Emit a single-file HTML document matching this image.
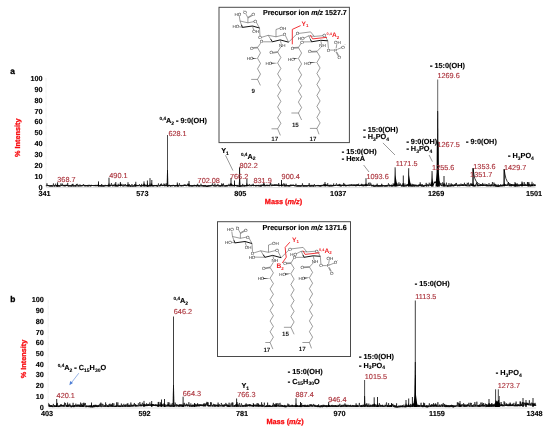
<!DOCTYPE html>
<html><head><meta charset="utf-8"><style>
html,body{margin:0;padding:0;background:#fff;}
svg{display:block;filter:blur(0.3px);}
text{font-family:'Liberation Sans', Arial, sans-serif;text-rendering:geometricPrecision;}
</style></head><body>
<svg width="550" height="432" viewBox="0 0 550 432">
<rect width="550" height="432" fill="#fff"/>
<text x="42.60" y="189.65" font-size="7.3" font-weight="bold" fill="#000" text-anchor="end" stroke="#000" stroke-width="0.12">0</text>
<text x="42.60" y="178.78" font-size="7.3" font-weight="bold" fill="#000" text-anchor="end" stroke="#000" stroke-width="0.12">10</text>
<text x="42.60" y="167.91" font-size="7.3" font-weight="bold" fill="#000" text-anchor="end" stroke="#000" stroke-width="0.12">20</text>
<text x="42.60" y="157.04" font-size="7.3" font-weight="bold" fill="#000" text-anchor="end" stroke="#000" stroke-width="0.12">30</text>
<text x="42.60" y="146.17" font-size="7.3" font-weight="bold" fill="#000" text-anchor="end" stroke="#000" stroke-width="0.12">40</text>
<text x="42.60" y="135.30" font-size="7.3" font-weight="bold" fill="#000" text-anchor="end" stroke="#000" stroke-width="0.12">50</text>
<text x="42.60" y="124.43" font-size="7.3" font-weight="bold" fill="#000" text-anchor="end" stroke="#000" stroke-width="0.12">60</text>
<text x="42.60" y="113.56" font-size="7.3" font-weight="bold" fill="#000" text-anchor="end" stroke="#000" stroke-width="0.12">70</text>
<text x="42.60" y="102.69" font-size="7.3" font-weight="bold" fill="#000" text-anchor="end" stroke="#000" stroke-width="0.12">80</text>
<text x="42.60" y="91.82" font-size="7.3" font-weight="bold" fill="#000" text-anchor="end" stroke="#000" stroke-width="0.12">90</text>
<text x="42.60" y="80.95" font-size="7.3" font-weight="bold" fill="#000" text-anchor="end" stroke="#000" stroke-width="0.12">100</text>
<line x1="46.0" y1="78" x2="46.0" y2="186.5" stroke="#c8c8c8" stroke-width="0.5" stroke-dasharray="0.6,0.6"/>
<text x="44.50" y="195.60" font-size="7.3" font-weight="bold" fill="#000" text-anchor="middle" stroke="#000" stroke-width="0.12">341</text>
<text x="142.40" y="195.60" font-size="7.3" font-weight="bold" fill="#000" text-anchor="middle" stroke="#000" stroke-width="0.12">573</text>
<text x="240.30" y="195.60" font-size="7.3" font-weight="bold" fill="#000" text-anchor="middle" stroke="#000" stroke-width="0.12">805</text>
<text x="338.20" y="195.60" font-size="7.3" font-weight="bold" fill="#000" text-anchor="middle" stroke="#000" stroke-width="0.12">1037</text>
<text x="436.10" y="195.60" font-size="7.3" font-weight="bold" fill="#000" text-anchor="middle" stroke="#000" stroke-width="0.12">1269</text>
<text x="534.00" y="195.60" font-size="7.3" font-weight="bold" fill="#000" text-anchor="middle" stroke="#000" stroke-width="0.12">1501</text>
<text x="10.30" y="74.40" font-size="8.4" font-weight="bold" fill="#000" text-anchor="start" stroke="#000" stroke-width="0.3">a</text>
<text x="0" y="0" font-size="7.3" font-weight="bold" fill="#f80c10" stroke="#f80c10" stroke-width="0.28" text-anchor="middle" transform="translate(20.3,137.7) rotate(-90)">% Intensity</text>
<text x="264.8" y="204.2" font-size="7.3" font-weight="bold" fill="#f80c10" stroke="#f80c10" stroke-width="0.28">Mass (<tspan font-style="italic">m/z</tspan>)</text>
<line x1="46.20" y1="187.60" x2="535.50" y2="187.60" stroke="#d8d8d8" stroke-width="0.8"/>
<path d="M46.20,184.97 L46.45,186.28 L46.70,185.57 L46.95,183.35 L47.20,185.04 L47.45,185.98 L47.70,185.05 L47.95,186.16 L48.20,185.16 L48.45,186.10 L48.70,185.16 L48.95,186.13 L49.20,185.22 L49.45,186.34 L49.70,185.45 L49.95,186.60 L50.20,185.60 L50.45,186.40 L50.70,185.21 L50.95,186.35 L51.20,185.06 L51.45,186.53 L51.70,185.42 L51.95,186.27 L52.20,185.27 L52.45,186.58 L52.70,185.59 L52.95,186.36 L53.20,185.05 L53.45,183.48 L53.70,185.43 L53.95,186.33 L54.20,185.23 L54.45,186.55 L54.70,185.24 L54.95,186.31 L55.20,185.00 L55.45,184.45 L55.70,183.68 L55.95,186.33 L56.20,185.06 L56.45,186.40 L56.70,185.02 L56.95,186.58 L57.20,185.32 L57.45,186.54 L57.70,185.12 L57.95,186.32 L58.20,185.25 L58.45,186.41 L58.70,185.34 L58.95,186.47 L59.20,185.43 L59.45,186.52 L59.70,185.18 L59.95,186.39 L60.20,185.32 L60.45,186.26 L60.70,185.38 L60.95,183.44 L61.20,185.04 L61.45,186.06 L61.70,185.09 L61.95,185.97 L62.20,184.72 L62.45,183.64 L62.70,185.10 L62.95,186.18 L63.20,184.91 L63.45,186.01 L63.70,185.21 L63.95,186.32 L64.20,184.96 L64.45,186.17 L64.70,184.94 L64.95,186.28 L65.20,184.95 L65.45,186.23 L65.70,185.10 L65.95,186.11 L66.20,184.71 L66.45,185.95 L66.70,184.91 L66.95,185.99 L67.20,185.03 L67.45,185.96 L67.70,183.07 L67.95,186.23 L68.20,185.37 L68.45,186.54 L68.70,185.33 L68.95,186.27 L69.20,185.52 L69.45,186.27 L69.70,185.20 L69.95,186.38 L70.20,185.25 L70.45,186.27 L70.70,185.31 L70.95,186.43 L71.20,185.43 L71.45,186.55 L71.70,185.09 L71.95,186.18 L72.20,184.02 L72.45,186.39 L72.70,185.23 L72.95,183.80 L73.20,185.48 L73.45,186.52 L73.70,184.96 L73.95,186.29 L74.20,185.53 L74.45,186.32 L74.70,185.43 L74.95,186.31 L75.20,185.08 L75.45,186.46 L75.70,184.98 L75.95,186.50 L76.20,185.27 L76.45,183.96 L76.70,185.36 L76.95,186.40 L77.20,185.02 L77.45,183.83 L77.70,184.27 L77.95,186.32 L78.20,185.10 L78.45,186.45 L78.70,185.56 L78.95,186.25 L79.20,185.02 L79.45,186.40 L79.70,185.48 L79.95,184.36 L80.20,185.10 L80.45,186.37 L80.70,185.05 L80.95,186.31 L81.20,185.07 L81.45,186.25 L81.70,185.27 L81.95,186.14 L82.20,185.20 L82.45,186.12 L82.70,184.93 L82.95,186.16 L83.20,185.28 L83.45,184.08 L83.70,184.92 L83.95,185.99 L84.20,185.19 L84.45,186.31 L84.70,184.91 L84.95,186.16 L85.20,184.97 L85.45,186.30 L85.70,185.38 L85.95,186.27 L86.20,185.00 L86.45,186.09 L86.70,185.26 L86.95,186.27 L87.20,184.99 L87.45,186.37 L87.70,184.94 L87.95,186.23 L88.20,185.38 L88.45,186.41 L88.70,184.91 L88.95,186.16 L89.20,184.78 L89.45,186.05 L89.70,185.32 L89.95,186.19 L90.20,185.00 L90.45,186.35 L90.70,185.04 L90.95,186.32 L91.20,184.84 L91.45,186.05 L91.70,184.97 L91.95,186.03 L92.20,185.06 L92.45,185.89 L92.70,185.16 L92.95,186.03 L93.20,185.20 L93.45,186.11 L93.70,185.15 L93.95,186.05 L94.20,184.95 L94.45,186.00 L94.70,185.01 L94.95,186.24 L95.20,185.06 L95.45,186.02 L95.70,184.86 L95.95,186.24 L96.20,185.40 L96.45,186.02 L96.70,185.07 L96.95,186.22 L97.20,184.75 L97.45,186.10 L97.70,185.01 L97.95,185.98 L98.20,185.18 L98.45,186.39 L98.70,184.97 L98.95,186.10 L99.20,185.08 L99.45,186.24 L99.70,185.40 L99.95,186.53 L100.20,185.08 L100.45,186.40 L100.70,185.00 L100.95,186.13 L101.20,184.92 L101.45,186.46 L101.70,184.04 L101.95,186.54 L102.20,185.41 L102.45,186.39 L102.70,185.20 L102.95,186.36 L103.20,185.14 L103.45,186.59 L103.70,185.40 L103.95,186.40 L104.20,185.17 L104.45,186.37 L104.70,185.32 L104.95,186.21 L105.20,184.82 L105.45,186.17 L105.70,185.31 L105.95,186.09 L106.20,185.00 L106.45,186.12 L106.70,185.27 L106.95,186.16 L107.20,185.19 L107.45,186.16 L107.70,184.99 L107.95,186.23 L108.20,184.86 L108.45,186.42 L108.70,184.83 L108.95,186.20 L109.20,185.14 L109.45,186.31 L109.70,185.18 L109.95,186.26 L110.20,184.78 L110.45,186.22 L110.70,184.95 L110.95,185.98 L111.20,184.64 L111.45,183.12 L111.70,184.72 L111.95,186.06 L112.20,184.80 L112.45,186.29 L112.70,185.18 L112.95,186.19 L113.20,184.78 L113.45,186.07 L113.70,184.86 L113.95,186.14 L114.20,184.84 L114.45,186.31 L114.70,185.29 L114.95,183.70 L115.20,185.00 L115.45,186.21 L115.70,185.00 L115.95,186.33 L116.20,185.23 L116.45,186.27 L116.70,185.00 L116.95,186.35 L117.20,185.42 L117.45,186.46 L117.70,185.23 L117.95,186.36 L118.20,183.79 L118.45,186.23 L118.70,185.02 L118.95,186.04 L119.20,184.93 L119.45,185.98 L119.70,185.18 L119.95,185.91 L120.20,183.66 L120.45,185.98 L120.70,185.15 L120.95,186.02 L121.20,184.70 L121.45,186.02 L121.70,184.76 L121.95,183.87 L122.20,185.21 L122.45,186.31 L122.70,185.24 L122.95,186.16 L123.20,185.28 L123.45,186.44 L123.70,185.18 L123.95,184.13 L124.20,184.91 L124.45,186.14 L124.70,185.10 L124.95,186.22 L125.20,184.95 L125.45,184.06 L125.70,185.16 L125.95,186.28 L126.20,185.30 L126.45,186.22 L126.70,185.21 L126.95,186.04 L127.20,184.96 L127.45,186.29 L127.70,185.15 L127.95,186.43 L128.20,185.35 L128.45,186.33 L128.70,185.33 L128.95,186.21 L129.20,184.00 L129.45,186.32 L129.70,185.33 L129.95,186.36 L130.20,185.24 L130.45,186.68 L130.70,185.37 L130.95,186.62 L131.20,185.48 L131.45,186.47 L131.70,185.64 L131.95,184.01 L132.20,185.42 L132.45,186.61 L132.70,185.46 L132.95,186.58 L133.20,185.42 L133.45,186.39 L133.70,185.44 L133.95,186.42 L134.20,185.47 L134.45,186.39 L134.70,184.02 L134.95,186.30 L135.20,185.31 L135.45,186.43 L135.70,185.22 L135.95,186.33 L136.20,185.50 L136.45,186.04 L136.70,185.20 L136.95,186.31 L137.20,184.94 L137.45,185.97 L137.70,185.20 L137.95,186.15 L138.20,185.11 L138.45,186.17 L138.70,185.18 L138.95,185.95 L139.20,185.08 L139.45,184.16 L139.70,185.23 L139.95,186.26 L140.20,185.14 L140.45,186.37 L140.70,185.03 L140.95,186.53 L141.20,185.48 L141.45,186.38 L141.70,183.88 L141.95,186.40 L142.20,185.00 L142.45,186.09 L142.70,185.27 L142.95,186.08 L143.20,184.93 L143.45,186.09 L143.70,185.26 L143.95,186.21 L144.20,183.80 L144.45,186.33 L144.70,185.25 L144.95,186.08 L145.20,184.87 L145.45,186.29 L145.70,184.73 L145.95,186.22 L146.20,184.98 L146.45,186.23 L146.70,185.18 L146.95,186.44 L147.20,185.22 L147.45,186.62 L147.70,185.41 L147.95,186.60 L148.20,185.33 L148.45,186.52 L148.70,184.94 L148.95,186.15 L149.20,185.01 L149.45,186.18 L149.70,185.33 L149.95,186.24 L150.20,185.17 L150.45,186.28 L150.70,185.07 L150.95,186.10 L151.20,184.90 L151.45,183.89 L151.70,185.23 L151.95,186.11 L152.20,185.37 L152.45,186.22 L152.70,185.31 L152.95,186.42 L153.20,185.24 L153.45,186.33 L153.70,184.99 L153.95,186.22 L154.20,185.15 L154.45,186.17 L154.70,184.96 L154.95,186.06 L155.20,185.16 L155.45,186.16 L155.70,185.08 L155.95,186.10 L156.20,184.96 L156.45,186.14 L156.70,184.98 L156.95,186.50 L157.20,185.30 L157.45,186.58 L157.70,185.36 L157.95,186.41 L158.20,185.06 L158.45,183.48 L158.70,185.32 L158.95,186.13 L159.20,185.38 L159.45,186.27 L159.70,185.18 L159.95,186.25 L160.20,184.91 L160.45,186.10 L160.70,183.93 L160.95,186.07 L161.20,185.13 L161.45,183.58 L161.70,185.03 L161.95,186.06 L162.20,184.82 L162.45,186.10 L162.70,184.98 L162.95,186.01 L163.20,184.95 L163.45,186.06 L163.70,184.91 L163.95,183.53 L164.20,184.88 L164.45,186.13 L164.70,184.17 L164.95,186.30 L165.20,185.15 L165.45,186.10 L165.70,184.79 L165.95,185.81 L166.20,183.21 L166.45,185.98 L166.70,184.88 L166.95,186.12 L167.20,185.12 L167.45,186.10 L167.70,185.06 L167.95,186.32 L168.20,185.05 L168.45,186.24 L168.70,185.00 L168.95,186.06 L169.20,184.77 L169.45,186.02 L169.70,185.02 L169.95,186.22 L170.20,185.44 L170.45,186.51 L170.70,185.12 L170.95,186.45 L171.20,185.15 L171.45,186.09 L171.70,184.99 L171.95,186.15 L172.20,185.36 L172.45,186.26 L172.70,185.00 L172.95,186.02 L173.20,184.79 L173.45,185.95 L173.70,185.14 L173.95,186.12 L174.20,185.41 L174.45,186.28 L174.70,185.02 L174.95,186.50 L175.20,185.24 L175.45,186.34 L175.70,185.00 L175.95,186.10 L176.20,185.26 L176.45,186.08 L176.70,185.06 L176.95,186.37 L177.20,185.24 L177.45,186.14 L177.70,185.42 L177.95,186.50 L178.20,185.25 L178.45,186.43 L178.70,185.15 L178.95,186.33 L179.20,184.17 L179.45,183.28 L179.70,184.98 L179.95,186.00 L180.20,184.96 L180.45,186.15 L180.70,185.12 L180.95,186.33 L181.20,185.07 L181.45,186.26 L181.70,184.94 L181.95,186.19 L182.20,185.17 L182.45,186.19 L182.70,185.18 L182.95,186.02 L183.20,184.87 L183.45,186.26 L183.70,185.06 L183.95,185.91 L184.20,184.58 L184.45,186.00 L184.70,184.73 L184.95,185.98 L185.20,184.62 L185.45,185.82 L185.70,184.85 L185.95,186.13 L186.20,185.20 L186.45,186.09 L186.70,185.14 L186.95,186.11 L187.20,184.78 L187.45,183.93 L187.70,183.83 L187.95,186.05 L188.20,183.80 L188.45,186.07 L188.70,184.80 L188.95,186.19 L189.20,184.82 L189.45,186.14 L189.70,184.92 L189.95,186.36 L190.20,185.08 L190.45,186.29 L190.70,185.21 L190.95,186.11 L191.20,184.98 L191.45,186.47 L191.70,185.31 L191.95,186.38 L192.20,185.42 L192.45,186.36 L192.70,185.01 L192.95,186.49 L193.20,185.10 L193.45,186.19 L193.70,185.24 L193.95,186.15 L194.20,184.83 L194.45,186.20 L194.70,184.91 L194.95,186.17 L195.20,185.05 L195.45,186.12 L195.70,185.07 L195.95,186.23 L196.20,185.03 L196.45,186.47 L196.70,184.85 L196.95,186.26 L197.20,184.98 L197.45,186.02 L197.70,183.82 L197.95,186.36 L198.20,185.24 L198.45,186.34 L198.70,185.01 L198.95,186.53 L199.20,185.42 L199.45,186.42 L199.70,185.19 L199.95,186.30 L200.20,185.40 L200.45,186.26 L200.70,185.11 L200.95,183.72 L201.20,184.37 L201.45,186.28 L201.70,185.19 L201.95,186.24 L202.20,185.17 L202.45,186.30 L202.70,185.18 L202.95,186.27 L203.20,185.18 L203.45,186.48 L203.70,185.11 L203.95,186.49 L204.20,185.16 L204.45,186.51 L204.70,185.26 L204.95,186.23 L205.20,184.93 L205.45,186.49 L205.70,185.20 L205.95,186.55 L206.20,185.73 L206.45,186.82 L206.70,185.58 L206.95,186.81 L207.20,185.75 L207.45,186.88 L207.70,185.35 L207.95,186.66 L208.20,185.56 L208.45,186.55 L208.70,185.17 L208.95,186.33 L209.20,185.35 L209.45,186.43 L209.70,185.30 L209.95,186.24 L210.20,185.09 L210.45,186.29 L210.70,185.10 L210.95,186.18 L211.20,185.23 L211.45,186.11 L211.70,184.95 L211.95,186.16 L212.20,184.70 L212.45,183.40 L212.70,184.86 L212.95,186.04 L213.20,185.19 L213.45,186.11 L213.70,184.88 L213.95,186.38 L214.20,185.10 L214.45,186.37 L214.70,185.17 L214.95,183.63 L215.20,185.49 L215.45,186.43 L215.70,185.27 L215.95,186.36 L216.20,185.10 L216.45,186.29 L216.70,185.23 L216.95,186.04 L217.20,184.85 L217.45,186.15 L217.70,185.10 L217.95,184.08 L218.20,185.38 L218.45,186.37 L218.70,185.09 L218.95,186.19 L219.20,185.45 L219.45,186.42 L219.70,185.24 L219.95,186.41 L220.20,185.12 L220.45,186.43 L220.70,185.52 L220.95,186.50 L221.20,185.08 L221.45,186.12 L221.70,183.35 L221.95,186.24 L222.20,185.20 L222.45,186.20 L222.70,184.16 L222.95,186.46 L223.20,185.52 L223.45,183.48 L223.70,185.49 L223.95,186.31 L224.20,185.55 L224.45,186.34 L224.70,185.31 L224.95,186.34 L225.20,185.60 L225.45,186.50 L225.70,185.19 L225.95,186.28 L226.20,185.18 L226.45,186.35 L226.70,184.99 L226.95,186.34 L227.20,184.90 L227.45,186.33 L227.70,185.33 L227.95,186.08 L228.20,185.11 L228.45,186.10 L228.70,185.15 L228.95,183.84 L229.20,184.97 L229.45,186.17 L229.70,185.01 L229.95,186.23 L230.20,184.90 L230.45,183.77 L230.70,184.95 L230.95,183.68 L231.20,184.92 L231.45,183.93 L231.70,185.19 L231.95,186.14 L232.20,184.73 L232.45,186.21 L232.70,184.77 L232.95,186.06 L233.20,185.03 L233.45,186.16 L233.70,185.00 L233.95,186.23 L234.20,185.12 L234.45,185.95 L234.70,185.01 L234.95,186.02 L235.20,185.22 L235.45,186.00 L235.70,184.92 L235.95,186.08 L236.20,184.99 L236.45,186.14 L236.70,185.28 L236.95,186.36 L237.20,184.89 L237.45,186.35 L237.70,185.15 L237.95,186.55 L238.20,185.53 L238.45,186.41 L238.70,185.52 L238.95,186.34 L239.20,185.43 L239.45,186.46 L239.70,185.29 L239.95,186.42 L240.20,185.22 L240.45,186.58 L240.70,185.22 L240.95,186.51 L241.20,185.50 L241.45,186.34 L241.70,185.14 L241.95,186.41 L242.20,185.61 L242.45,186.32 L242.70,183.88 L242.95,186.18 L243.20,185.40 L243.45,186.23 L243.70,185.37 L243.95,186.47 L244.20,184.90 L244.45,186.34 L244.70,185.22 L244.95,186.47 L245.20,185.45 L245.45,186.23 L245.70,185.04 L245.95,186.05 L246.20,185.22 L246.45,186.16 L246.70,185.07 L246.95,186.06 L247.20,185.43 L247.45,186.12 L247.70,184.94 L247.95,186.02 L248.20,184.81 L248.45,186.01 L248.70,185.06 L248.95,186.20 L249.20,185.08 L249.45,184.15 L249.70,184.05 L249.95,186.22 L250.20,185.36 L250.45,186.08 L250.70,185.22 L250.95,186.10 L251.20,184.94 L251.45,186.20 L251.70,184.74 L251.95,186.06 L252.20,185.12 L252.45,185.88 L252.70,184.72 L252.95,185.99 L253.20,183.75 L253.45,186.22 L253.70,185.07 L253.95,185.99 L254.20,185.30 L254.45,185.98 L254.70,185.16 L254.95,186.10 L255.20,184.98 L255.45,186.28 L255.70,185.07 L255.95,186.28 L256.20,185.11 L256.45,186.20 L256.70,184.93 L256.95,186.09 L257.20,185.10 L257.45,185.99 L257.70,185.05 L257.95,186.21 L258.20,184.90 L258.45,186.16 L258.70,184.94 L258.95,186.19 L259.20,185.29 L259.45,186.19 L259.70,185.46 L259.95,186.46 L260.20,184.77 L260.45,186.38 L260.70,185.07 L260.95,186.47 L261.20,184.89 L261.45,186.31 L261.70,184.77 L261.95,186.17 L262.20,184.83 L262.45,185.97 L262.70,184.64 L262.95,185.96 L263.20,185.18 L263.45,185.95 L263.70,183.21 L263.95,186.26 L264.20,183.53 L264.45,186.18 L264.70,184.61 L264.95,186.00 L265.20,185.18 L265.45,186.23 L265.70,185.05 L265.95,186.12 L266.20,185.10 L266.45,186.04 L266.70,184.84 L266.95,186.12 L267.20,184.69 L267.45,186.09 L267.70,185.09 L267.95,186.14 L268.20,185.19 L268.45,186.12 L268.70,184.92 L268.95,185.98 L269.20,184.85 L269.45,186.13 L269.70,184.75 L269.95,186.26 L270.20,185.26 L270.45,183.25 L270.70,184.64 L270.95,183.48 L271.20,185.02 L271.45,186.09 L271.70,185.07 L271.95,186.15 L272.20,184.65 L272.45,185.84 L272.70,184.70 L272.95,185.87 L273.20,184.81 L273.45,186.00 L273.70,184.69 L273.95,185.74 L274.20,184.82 L274.45,185.85 L274.70,184.30 L274.95,185.89 L275.20,184.76 L275.45,185.73 L275.70,184.49 L275.95,185.81 L276.20,184.62 L276.45,185.64 L276.70,184.65 L276.95,185.75 L277.20,184.43 L277.45,185.89 L277.70,184.92 L277.95,185.85 L278.20,184.98 L278.45,186.14 L278.70,183.09 L278.95,186.12 L279.20,184.73 L279.45,186.19 L279.70,184.93 L279.95,186.09 L280.20,185.10 L280.45,185.82 L280.70,184.99 L280.95,186.01 L281.20,184.60 L281.45,185.99 L281.70,184.88 L281.95,186.11 L282.20,184.60 L282.45,185.90 L282.70,184.76 L282.95,186.22 L283.20,184.20 L283.45,183.48 L283.70,184.70 L283.95,186.08 L284.20,184.89 L284.45,186.30 L284.70,183.63 L284.95,186.39 L285.20,185.20 L285.45,186.38 L285.70,184.91 L285.95,186.12 L286.20,183.75 L286.45,186.28 L286.70,185.05 L286.95,186.24 L287.20,185.18 L287.45,186.19 L287.70,185.21 L287.95,186.25 L288.20,185.04 L288.45,186.32 L288.70,185.07 L288.95,186.45 L289.20,185.07 L289.45,186.48 L289.70,185.10 L289.95,186.19 L290.20,184.78 L290.45,186.24 L290.70,184.79 L290.95,185.91 L291.20,184.65 L291.45,186.11 L291.70,185.13 L291.95,186.00 L292.20,184.80 L292.45,185.90 L292.70,184.85 L292.95,186.01 L293.20,184.74 L293.45,185.90 L293.70,184.74 L293.95,185.89 L294.20,185.04 L294.45,186.10 L294.70,185.05 L294.95,186.29 L295.20,185.24 L295.45,186.26 L295.70,184.93 L295.95,183.75 L296.20,184.99 L296.45,186.46 L296.70,185.50 L296.95,186.46 L297.20,185.53 L297.45,186.47 L297.70,185.06 L297.95,186.50 L298.20,185.19 L298.45,186.44 L298.70,185.25 L298.95,186.53 L299.20,185.16 L299.45,186.39 L299.70,185.31 L299.95,186.56 L300.20,185.35 L300.45,186.58 L300.70,185.34 L300.95,186.42 L301.20,185.30 L301.45,186.30 L301.70,185.19 L301.95,186.39 L302.20,185.57 L302.45,183.36 L302.70,185.51 L302.95,186.48 L303.20,184.98 L303.45,186.50 L303.70,185.44 L303.95,186.52 L304.20,185.07 L304.45,186.43 L304.70,185.31 L304.95,186.40 L305.20,185.37 L305.45,186.37 L305.70,185.19 L305.95,186.52 L306.20,185.19 L306.45,186.45 L306.70,185.36 L306.95,186.50 L307.20,185.45 L307.45,186.42 L307.70,185.21 L307.95,186.15 L308.20,185.22 L308.45,186.13 L308.70,184.90 L308.95,186.15 L309.20,183.17 L309.45,186.49 L309.70,185.28 L309.95,186.41 L310.20,185.47 L310.45,186.50 L310.70,184.89 L310.95,186.49 L311.20,185.29 L311.45,186.26 L311.70,184.91 L311.95,186.50 L312.20,184.87 L312.45,186.28 L312.70,185.57 L312.95,186.36 L313.20,185.05 L313.45,186.58 L313.70,184.88 L313.95,186.44 L314.20,184.94 L314.45,184.17 L314.70,185.27 L314.95,186.34 L315.20,185.22 L315.45,186.32 L315.70,185.39 L315.95,186.24 L316.20,185.48 L316.45,186.09 L316.70,185.16 L316.95,186.10 L317.20,184.96 L317.45,186.08 L317.70,185.24 L317.95,186.24 L318.20,184.93 L318.45,186.15 L318.70,185.01 L318.95,186.22 L319.20,185.07 L319.45,186.30 L319.70,185.12 L319.95,186.55 L320.20,185.07 L320.45,186.46 L320.70,184.98 L320.95,186.41 L321.20,185.21 L321.45,186.18 L321.70,184.91 L321.95,186.22 L322.20,184.95 L322.45,186.01 L322.70,185.21 L322.95,186.16 L323.20,184.68 L323.45,186.14 L323.70,184.56 L323.95,183.90 L324.20,185.25 L324.45,186.09 L324.70,184.55 L324.95,186.04 L325.20,184.43 L325.45,186.22 L325.70,184.56 L325.95,186.14 L326.20,184.63 L326.45,185.98 L326.70,184.63 L326.95,186.16 L327.20,185.09 L327.45,186.20 L327.70,183.24 L327.95,185.97 L328.20,185.14 L328.45,186.29 L328.70,185.20 L328.95,186.32 L329.20,184.80 L329.45,186.45 L329.70,185.02 L329.95,186.26 L330.20,185.29 L330.45,186.42 L330.70,184.66 L330.95,186.17 L331.20,185.44 L331.45,186.42 L331.70,184.84 L331.95,186.28 L332.20,185.04 L332.45,186.31 L332.70,185.05 L332.95,186.11 L333.20,184.87 L333.45,186.08 L333.70,183.50 L333.95,186.15 L334.20,185.02 L334.45,186.00 L334.70,185.10 L334.95,185.91 L335.20,185.02 L335.45,185.98 L335.70,184.70 L335.95,185.96 L336.20,184.81 L336.45,183.38 L336.70,184.45 L336.95,185.79 L337.20,185.09 L337.45,185.97 L337.70,184.61 L337.95,186.07 L338.20,184.99 L338.45,185.85 L338.70,184.38 L338.95,186.07 L339.20,184.82 L339.45,185.96 L339.70,183.89 L339.95,186.25 L340.20,184.50 L340.45,186.23 L340.70,184.87 L340.95,186.46 L341.20,185.23 L341.45,186.24 L341.70,184.70 L341.95,186.03 L342.20,184.99 L342.45,185.93 L342.70,184.67 L342.95,185.99 L343.20,185.15 L343.45,186.11 L343.70,182.94 L343.95,186.11 L344.20,185.19 L344.45,186.01 L344.70,183.88 L344.95,186.07 L345.20,185.10 L345.45,186.31 L345.70,184.77 L345.95,186.12 L346.20,184.84 L346.45,186.19 L346.70,185.00 L346.95,186.13 L347.20,184.99 L347.45,185.94 L347.70,184.93 L347.95,186.02 L348.20,184.53 L348.45,186.07 L348.70,185.19 L348.95,186.10 L349.20,185.11 L349.45,186.20 L349.70,184.98 L349.95,184.09 L350.20,185.21 L350.45,185.92 L350.70,185.00 L350.95,186.17 L351.20,184.38 L351.45,185.92 L351.70,184.57 L351.95,183.98 L352.20,184.64 L352.45,185.88 L352.70,184.76 L352.95,186.16 L353.20,185.16 L353.45,186.03 L353.70,184.41 L353.95,185.90 L354.20,184.50 L354.45,186.03 L354.70,184.87 L354.95,186.04 L355.20,184.56 L355.45,186.19 L355.70,184.73 L355.95,186.22 L356.20,184.87 L356.45,186.10 L356.70,184.37 L356.95,186.03 L357.20,184.33 L357.45,185.80 L357.70,184.40 L357.95,186.04 L358.20,184.72 L358.45,185.91 L358.70,183.70 L358.95,185.93 L359.20,185.07 L359.45,186.16 L359.70,184.97 L359.95,186.03 L360.20,185.09 L360.45,186.01 L360.70,184.71 L360.95,186.02 L361.20,184.59 L361.45,185.86 L361.70,183.79 L361.95,186.14 L362.20,184.83 L362.45,186.10 L362.70,184.33 L362.95,186.11 L363.20,184.98 L363.45,186.28 L363.70,184.46 L363.95,186.11 L364.20,185.20 L364.45,186.08 L364.70,184.42 L364.95,185.95 L365.20,184.62 L365.45,185.87 L365.70,184.15 L365.95,185.81 L366.20,184.87 L366.45,185.76 L366.70,184.34 L366.95,185.66 L367.20,184.53 L367.45,185.85 L367.70,184.58 L367.95,185.99 L368.20,184.58 L368.45,182.80 L368.70,184.29 L368.95,185.94 L369.20,184.76 L369.45,185.92 L369.70,184.58 L369.95,182.47 L370.20,184.08 L370.45,185.71 L370.70,185.09 L370.95,183.49 L371.20,184.55 L371.45,186.25 L371.70,184.85 L371.95,186.17 L372.20,185.10 L372.45,186.15 L372.70,184.88 L372.95,186.28 L373.20,185.26 L373.45,186.49 L373.70,184.73 L373.95,186.67 L374.20,185.36 L374.45,186.59 L374.70,185.55 L374.95,186.63 L375.20,185.69 L375.45,186.58 L375.70,185.03 L375.95,186.23 L376.20,184.76 L376.45,186.33 L376.70,185.03 L376.95,186.55 L377.20,183.65 L377.45,186.43 L377.70,185.33 L377.95,186.48 L378.20,185.14 L378.45,186.49 L378.70,185.16 L378.95,186.64 L379.20,185.04 L379.45,186.36 L379.70,185.27 L379.95,186.55 L380.20,185.20 L380.45,186.56 L380.70,185.15 L380.95,186.18 L381.20,185.04 L381.45,186.41 L381.70,183.75 L381.95,186.59 L382.20,184.77 L382.45,186.41 L382.70,185.05 L382.95,186.18 L383.20,185.05 L383.45,186.19 L383.70,185.33 L383.95,186.28 L384.20,185.33 L384.45,186.54 L384.70,185.38 L384.95,186.34 L385.20,185.02 L385.45,186.47 L385.70,185.33 L385.95,186.51 L386.20,185.09 L386.45,186.40 L386.70,185.02 L386.95,186.38 L387.20,184.90 L387.45,186.32 L387.70,185.14 L387.95,186.25 L388.20,185.12 L388.45,183.33 L388.70,184.56 L388.95,186.18 L389.20,184.61 L389.45,186.27 L389.70,184.86 L389.95,186.36 L390.20,185.09 L390.45,186.12 L390.70,185.30 L390.95,186.17 L391.20,184.89 L391.45,186.54 L391.70,184.69 L391.95,186.32 L392.20,185.03 L392.45,186.37 L392.70,185.09 L392.95,186.42 L393.20,183.39 L393.45,186.20 L393.70,184.69 L393.95,185.91 L394.20,184.43 L394.45,185.72 L394.70,183.99 L394.95,185.20 L395.20,183.18 L395.45,184.99 L395.70,181.83 L395.95,185.24 L396.20,183.54 L396.45,185.29 L396.70,184.73 L396.95,183.22 L397.20,184.14 L397.45,185.69 L397.70,184.84 L397.95,185.88 L398.20,184.52 L398.45,186.12 L398.70,184.69 L398.95,182.39 L399.20,184.85 L399.45,185.90 L399.70,184.40 L399.95,185.99 L400.20,185.02 L400.45,183.51 L400.70,185.33 L400.95,186.12 L401.20,185.29 L401.45,186.45 L401.70,184.89 L401.95,186.30 L402.20,184.68 L402.45,186.42 L402.70,184.66 L402.95,183.23 L403.20,184.70 L403.45,186.38 L403.70,185.42 L403.95,186.58 L404.20,185.08 L404.45,186.57 L404.70,184.91 L404.95,183.55 L405.20,185.03 L405.45,186.42 L405.70,185.17 L405.95,186.29 L406.20,185.11 L406.45,186.35 L406.70,184.43 L406.95,185.99 L407.20,184.99 L407.45,185.90 L407.70,184.01 L407.95,185.45 L408.20,183.85 L408.45,185.01 L408.70,183.03 L408.95,184.80 L409.20,183.64 L409.45,185.03 L409.70,184.09 L409.95,185.71 L410.20,184.75 L410.45,185.96 L410.70,183.60 L410.95,186.16 L411.20,185.23 L411.45,186.32 L411.70,184.79 L411.95,186.61 L412.20,183.84 L412.45,186.34 L412.70,185.31 L412.95,186.44 L413.20,184.22 L413.45,186.21 L413.70,184.74 L413.95,186.37 L414.20,184.92 L414.45,186.57 L414.70,184.64 L414.95,186.17 L415.20,184.68 L415.45,186.19 L415.70,185.03 L415.95,186.24 L416.20,184.67 L416.45,186.35 L416.70,185.11 L416.95,186.23 L417.20,185.27 L417.45,186.28 L417.70,185.38 L417.95,186.50 L418.20,184.69 L418.45,186.36 L418.70,184.90 L418.95,186.23 L419.20,184.67 L419.45,186.08 L419.70,184.42 L419.95,185.92 L420.20,182.39 L420.45,186.02 L420.70,184.54 L420.95,186.32 L421.20,185.06 L421.45,186.41 L421.70,184.61 L421.95,186.29 L422.20,184.00 L422.45,186.48 L422.70,185.23 L422.95,186.27 L423.20,185.38 L423.45,186.77 L423.70,185.32 L423.95,186.43 L424.20,184.89 L424.45,186.40 L424.70,185.30 L424.95,186.14 L425.20,184.88 L425.45,185.97 L425.70,184.90 L425.95,186.14 L426.20,182.89 L426.45,186.41 L426.70,184.60 L426.95,186.36 L427.20,185.02 L427.45,184.27 L427.70,184.38 L427.95,186.10 L428.20,184.61 L428.45,186.34 L428.70,184.69 L428.95,186.18 L429.20,182.76 L429.45,183.54 L429.70,184.67 L429.95,185.59 L430.20,184.31 L430.45,185.86 L430.70,184.77 L430.95,185.87 L431.20,182.59 L431.45,185.81 L431.70,184.47 L431.95,185.76 L432.20,184.19 L432.45,185.89 L432.70,184.03 L432.95,185.49 L433.20,183.65 L433.45,184.92 L433.70,183.32 L433.95,183.81 L434.20,181.73 L434.45,182.99 L434.70,182.00 L434.95,183.15 L435.20,181.60 L435.45,182.90 L435.70,181.87 L435.95,182.78 L436.20,181.49 L436.45,182.09 L436.70,179.31 L436.95,181.47 L437.20,180.24 L437.45,180.88 L437.70,179.31 L437.95,181.02 L438.20,180.02 L438.45,181.71 L438.70,181.05 L438.95,182.83 L439.20,181.47 L439.45,183.82 L439.70,182.38 L439.95,184.73 L440.20,183.55 L440.45,185.43 L440.70,184.02 L440.95,183.02 L441.20,184.32 L441.45,186.03 L441.70,184.91 L441.95,186.22 L442.20,184.20 L442.45,182.51 L442.70,182.33 L442.95,186.31 L443.20,184.43 L443.45,186.14 L443.70,184.43 L443.95,186.42 L444.20,183.29 L444.45,186.38 L444.70,184.70 L444.95,184.16 L445.20,185.22 L445.45,186.26 L445.70,185.24 L445.95,186.39 L446.20,184.68 L446.45,182.67 L446.70,185.14 L446.95,186.44 L447.20,185.08 L447.45,186.76 L447.70,185.13 L447.95,186.63 L448.20,184.95 L448.45,186.57 L448.70,184.78 L448.95,183.16 L449.20,184.70 L449.45,186.40 L449.70,185.37 L449.95,186.43 L450.20,184.62 L450.45,186.30 L450.70,184.87 L450.95,186.38 L451.20,183.34 L451.45,186.28 L451.70,184.73 L451.95,185.96 L452.20,184.22 L452.45,186.16 L452.70,184.85 L452.95,186.22 L453.20,184.82 L453.45,186.24 L453.70,184.99 L453.95,186.27 L454.20,184.40 L454.45,185.94 L454.70,184.45 L454.95,185.88 L455.20,184.77 L455.45,185.90 L455.70,183.43 L455.95,185.78 L456.20,184.53 L456.45,182.94 L456.70,184.82 L456.95,185.88 L457.20,184.63 L457.45,186.26 L457.70,185.13 L457.95,186.26 L458.20,184.69 L458.45,186.00 L458.70,184.64 L458.95,186.05 L459.20,185.19 L459.45,186.19 L459.70,184.36 L459.95,185.93 L460.20,184.75 L460.45,186.09 L460.70,184.75 L460.95,183.61 L461.20,184.59 L461.45,185.86 L461.70,184.53 L461.95,185.91 L462.20,184.35 L462.45,185.93 L462.70,184.20 L462.95,185.96 L463.20,184.83 L463.45,185.90 L463.70,184.26 L463.95,186.07 L464.20,184.89 L464.45,182.77 L464.70,184.84 L464.95,185.99 L465.20,184.45 L465.45,186.00 L465.70,184.28 L465.95,186.12 L466.20,185.13 L466.45,186.08 L466.70,184.48 L466.95,186.18 L467.20,182.86 L467.45,183.17 L467.70,184.79 L467.95,186.41 L468.20,184.57 L468.45,182.62 L468.70,184.53 L468.95,186.21 L469.20,184.53 L469.45,186.14 L469.70,185.14 L469.95,186.40 L470.20,184.97 L470.45,183.57 L470.70,185.12 L470.95,185.95 L471.20,183.25 L471.45,185.82 L471.70,184.00 L471.95,185.76 L472.20,184.34 L472.45,185.96 L472.70,184.78 L472.95,186.20 L473.20,184.24 L473.45,186.18 L473.70,185.04 L473.95,186.18 L474.20,185.14 L474.45,186.40 L474.70,184.84 L474.95,186.43 L475.20,185.26 L475.45,186.08 L475.70,184.40 L475.95,186.25 L476.20,184.85 L476.45,182.48 L476.70,184.25 L476.95,182.64 L477.20,182.80 L477.45,186.17 L477.70,183.98 L477.95,186.22 L478.20,184.69 L478.45,185.94 L478.70,185.05 L478.95,186.27 L479.20,184.96 L479.45,185.87 L479.70,184.75 L479.95,185.94 L480.20,184.78 L480.45,186.11 L480.70,184.83 L480.95,185.76 L481.20,184.35 L481.45,185.98 L481.70,184.36 L481.95,185.78 L482.20,184.93 L482.45,186.07 L482.70,182.95 L482.95,186.03 L483.20,184.44 L483.45,185.99 L483.70,184.45 L483.95,185.87 L484.20,184.83 L484.45,185.99 L484.70,184.59 L484.95,183.70 L485.20,184.53 L485.45,186.07 L485.70,184.76 L485.95,185.94 L486.20,184.52 L486.45,186.22 L486.70,184.32 L486.95,186.19 L487.20,184.38 L487.45,186.15 L487.70,185.01 L487.95,186.29 L488.20,184.90 L488.45,186.28 L488.70,184.56 L488.95,183.15 L489.20,183.57 L489.45,186.12 L489.70,184.93 L489.95,186.33 L490.20,184.96 L490.45,186.20 L490.70,184.54 L490.95,186.26 L491.20,184.85 L491.45,186.15 L491.70,184.22 L491.95,186.13 L492.20,184.39 L492.45,182.07 L492.70,185.05 L492.95,186.30 L493.20,184.99 L493.45,186.27 L493.70,185.02 L493.95,182.57 L494.20,184.85 L494.45,186.22 L494.70,183.90 L494.95,186.27 L495.20,183.92 L495.45,186.42 L495.70,184.76 L495.95,186.61 L496.20,185.29 L496.45,186.51 L496.70,184.62 L496.95,186.64 L497.20,185.36 L497.45,186.68 L497.70,185.44 L497.95,186.80 L498.20,184.29 L498.45,186.84 L498.70,185.34 L498.95,186.64 L499.20,185.06 L499.45,186.40 L499.70,185.39 L499.95,186.57 L500.20,185.07 L500.45,186.24 L500.70,184.25 L500.95,186.17 L501.20,184.85 L501.45,186.34 L501.70,184.98 L501.95,186.23 L502.20,185.11 L502.45,186.28 L502.70,184.46 L502.95,186.13 L503.20,185.03 L503.45,186.07 L503.70,184.50 L503.95,186.03 L504.20,185.03 L504.45,185.82 L504.70,184.09 L504.95,185.92 L505.20,184.05 L505.45,185.73 L505.70,184.77 L505.95,185.80 L506.20,184.87 L506.45,185.74 L506.70,184.73 L506.95,185.62 L507.20,184.35 L507.45,185.89 L507.70,184.42 L507.95,183.30 L508.20,185.13 L508.45,182.03 L508.70,184.31 L508.95,186.11 L509.20,184.54 L509.45,186.06 L509.70,184.15 L509.95,186.27 L510.20,184.61 L510.45,185.93 L510.70,184.58 L510.95,186.25 L511.20,184.26 L511.45,186.22 L511.70,184.82 L511.95,186.10 L512.20,184.32 L512.45,185.81 L512.70,184.46 L512.95,186.06 L513.20,184.48 L513.45,185.83 L513.70,184.61 L513.95,186.27 L514.20,184.53 L514.45,186.17 L514.70,185.17 L514.95,186.46 L515.20,184.29 L515.45,186.30 L515.70,183.17 L515.95,186.54 L516.20,184.69 L516.45,186.19 L516.70,184.04 L516.95,186.19 L517.20,183.38 L517.45,186.33 L517.70,184.62 L517.95,186.27 L518.20,184.52 L518.45,186.08 L518.70,184.73 L518.95,186.30 L519.20,184.87 L519.45,186.20 L519.70,184.73 L519.95,185.88 L520.20,184.16 L520.45,186.06 L520.70,184.43 L520.95,185.83 L521.20,184.79 L521.45,185.95 L521.70,184.38 L521.95,186.22 L522.20,182.54 L522.45,186.04 L522.70,184.34 L522.95,185.94 L523.20,184.39 L523.45,185.84 L523.70,184.88 L523.95,186.01 L524.20,182.09 L524.45,185.89 L524.70,184.84 L524.95,186.04 L525.20,183.89 L525.45,185.72 L525.70,184.69 L525.95,185.86 L526.20,184.33 L526.45,185.86 L526.70,185.04 L526.95,185.87 L527.20,184.83 L527.45,182.08 L527.70,184.44 L527.95,186.15 L528.20,184.05 L528.45,186.39 L528.70,184.81 L528.95,182.34 L529.20,184.92 L529.45,186.21 L529.70,184.10 L529.95,186.39 L530.20,184.36 L530.45,186.35 L530.70,185.13 L530.95,186.25 L531.20,185.14 L531.45,185.96 L531.70,184.52 L531.95,186.00 L532.20,184.64 L532.45,185.98 L532.70,184.76 L532.95,186.07 L533.20,184.21 L533.45,183.59 L533.70,184.31 L533.95,186.26 L534.20,184.12 L534.45,185.99 L534.70,185.03 L534.95,186.01 L535.20,184.41 L535.45,186.14" stroke="#000" stroke-width="0.6" fill="none"/>
<line x1="57.60" y1="186.50" x2="57.60" y2="182.30" stroke="#000" stroke-width="0.85"/>
<path d="M56.70,186.00 L57.60,183.48 L58.50,186.00 Z" fill="#000"/>
<line x1="98.50" y1="186.50" x2="98.50" y2="181.40" stroke="#000" stroke-width="0.85"/>
<path d="M97.60,186.00 L98.50,182.94 L99.40,186.00 Z" fill="#000"/>
<line x1="109.00" y1="186.50" x2="109.00" y2="177.70" stroke="#000" stroke-width="0.85"/>
<path d="M108.10,186.00 L109.00,182.40 L109.90,186.00 Z" fill="#000"/>
<line x1="115.80" y1="186.50" x2="115.80" y2="182.00" stroke="#000" stroke-width="0.85"/>
<path d="M114.90,186.00 L115.80,183.30 L116.70,186.00 Z" fill="#000"/>
<line x1="120.40" y1="186.50" x2="120.40" y2="182.00" stroke="#000" stroke-width="0.85"/>
<path d="M119.50,186.00 L120.40,183.30 L121.30,186.00 Z" fill="#000"/>
<line x1="128.00" y1="186.50" x2="128.00" y2="182.20" stroke="#000" stroke-width="0.85"/>
<path d="M127.10,186.00 L128.00,183.42 L128.90,186.00 Z" fill="#000"/>
<line x1="135.80" y1="186.50" x2="135.80" y2="181.80" stroke="#000" stroke-width="0.85"/>
<path d="M134.90,186.00 L135.80,183.18 L136.70,186.00 Z" fill="#000"/>
<line x1="144.00" y1="186.50" x2="144.00" y2="181.40" stroke="#000" stroke-width="0.85"/>
<path d="M143.10,186.00 L144.00,182.94 L144.90,186.00 Z" fill="#000"/>
<line x1="147.40" y1="186.50" x2="147.40" y2="180.50" stroke="#000" stroke-width="0.85"/>
<path d="M146.50,186.00 L147.40,182.40 L148.30,186.00 Z" fill="#000"/>
<line x1="150.00" y1="186.50" x2="150.00" y2="178.10" stroke="#000" stroke-width="0.85"/>
<path d="M149.10,186.00 L150.00,182.40 L150.90,186.00 Z" fill="#000"/>
<line x1="151.80" y1="186.50" x2="151.80" y2="180.00" stroke="#000" stroke-width="0.85"/>
<path d="M150.90,186.00 L151.80,182.40 L152.70,186.00 Z" fill="#000"/>
<line x1="167.50" y1="186.50" x2="167.50" y2="135.00" stroke="#000" stroke-width="0.7"/>
<path d="M166.65,186.50 L167.05,170.00 L167.95,170.00 L168.35,186.50 Z" fill="#111"/>
<line x1="177.30" y1="186.50" x2="177.30" y2="182.50" stroke="#000" stroke-width="0.85"/>
<path d="M176.40,186.00 L177.30,183.60 L178.20,186.00 Z" fill="#000"/>
<line x1="189.00" y1="186.50" x2="189.00" y2="181.00" stroke="#000" stroke-width="0.85"/>
<path d="M188.10,186.00 L189.00,182.70 L189.90,186.00 Z" fill="#000"/>
<line x1="231.00" y1="186.50" x2="231.00" y2="178.00" stroke="#000" stroke-width="0.85"/>
<path d="M230.10,186.00 L231.00,182.40 L231.90,186.00 Z" fill="#000"/>
<line x1="234.50" y1="186.50" x2="234.50" y2="180.50" stroke="#000" stroke-width="0.85"/>
<path d="M233.60,186.00 L234.50,182.40 L235.40,186.00 Z" fill="#000"/>
<line x1="239.60" y1="186.50" x2="239.60" y2="167.30" stroke="#000" stroke-width="1.0"/>
<path d="M238.70,186.50 L239.15,178.00 L240.05,178.00 L240.50,186.50 Z" fill="#111"/>
<line x1="246.90" y1="186.50" x2="246.90" y2="179.00" stroke="#000" stroke-width="0.85"/>
<path d="M246.00,186.00 L246.90,182.40 L247.80,186.00 Z" fill="#000"/>
<line x1="281.50" y1="186.50" x2="281.50" y2="180.00" stroke="#000" stroke-width="0.85"/>
<path d="M280.60,186.00 L281.50,182.40 L282.40,186.00 Z" fill="#000"/>
<line x1="325.00" y1="186.50" x2="325.00" y2="182.00" stroke="#000" stroke-width="0.85"/>
<path d="M324.10,186.00 L325.00,183.30 L325.90,186.00 Z" fill="#000"/>
<line x1="366.00" y1="186.50" x2="366.00" y2="178.20" stroke="#000" stroke-width="0.85"/>
<path d="M365.10,186.00 L366.00,182.40 L366.90,186.00 Z" fill="#000"/>
<line x1="395.10" y1="186.50" x2="395.10" y2="167.30" stroke="#000" stroke-width="0.8"/>
<path d="M394.20,186.00 L395.10,182.40 L396.00,186.00 Z" fill="#000"/>
<line x1="403.30" y1="186.50" x2="403.30" y2="175.50" stroke="#000" stroke-width="0.85"/>
<path d="M402.40,186.00 L403.30,182.40 L404.20,186.00 Z" fill="#000"/>
<line x1="408.70" y1="186.50" x2="408.70" y2="168.20" stroke="#000" stroke-width="0.8"/>
<path d="M407.80,186.00 L408.70,182.40 L409.60,186.00 Z" fill="#000"/>
<line x1="432.00" y1="186.50" x2="432.00" y2="171.00" stroke="#000" stroke-width="0.8"/>
<path d="M431.10,186.00 L432.00,182.40 L432.90,186.00 Z" fill="#000"/>
<line x1="437.70" y1="186.50" x2="437.70" y2="79.50" stroke="#000" stroke-width="0.6"/>
<path d="M436.95,186.50 L437.25,111.00 L438.15,111.00 L438.45,186.50 Z" fill="#111"/>
<line x1="444.00" y1="186.50" x2="444.00" y2="176.00" stroke="#000" stroke-width="0.85"/>
<path d="M443.10,186.00 L444.00,182.40 L444.90,186.00 Z" fill="#000"/>
<line x1="473.10" y1="186.50" x2="473.10" y2="168.10" stroke="#000" stroke-width="0.8"/>
<path d="M472.20,186.00 L473.10,182.40 L474.00,186.00 Z" fill="#000"/>
<line x1="504.20" y1="186.50" x2="504.20" y2="169.20" stroke="#000" stroke-width="0.8"/>
<path d="M503.30,186.00 L504.20,182.40 L505.10,186.00 Z" fill="#000"/>
<line x1="515.00" y1="186.50" x2="515.00" y2="182.00" stroke="#000" stroke-width="0.85"/>
<path d="M514.10,186.00 L515.00,183.30 L515.90,186.00 Z" fill="#000"/>
<line x1="522.00" y1="186.50" x2="522.00" y2="181.50" stroke="#000" stroke-width="0.85"/>
<path d="M521.10,186.00 L522.00,183.00 L522.90,186.00 Z" fill="#000"/>
<line x1="528.00" y1="186.50" x2="528.00" y2="182.00" stroke="#000" stroke-width="0.85"/>
<path d="M527.10,186.00 L528.00,183.30 L528.90,186.00 Z" fill="#000"/>
<line x1="532.00" y1="186.50" x2="532.00" y2="181.80" stroke="#000" stroke-width="0.85"/>
<path d="M531.10,186.00 L532.00,183.18 L532.90,186.00 Z" fill="#000"/>
<polygon points="435.50,186.50 436.60,172.00 436.80,141.70 438.60,141.70 438.80,172.00 440.00,186.50" fill="#000"/>
<polygon points="430.90,186.50 431.80,178.00 432.10,171.00 432.40,178.00 433.60,186.50" fill="#000"/>
<polyline points="472.90,185.00 473.10,168.30 473.80,174.00 474.80,178.50 476.30,181.60 478.50,183.60 481.00,184.80" stroke="#000" stroke-width="0.8" fill="none" stroke-linejoin="round"/>
<polyline points="504.00,185.00 504.20,169.30 504.90,174.00 505.90,178.50 507.30,181.60 509.30,183.60 512.00,184.80" stroke="#000" stroke-width="0.8" fill="none" stroke-linejoin="round"/>
<polygon points="394.20,186.50 394.90,175.00 395.10,167.30 395.40,175.00 396.60,182.00 397.60,186.50" fill="#000"/>
<polygon points="407.80,186.50 408.50,175.00 408.70,168.20 409.00,175.00 410.20,182.00 411.20,186.50" fill="#000"/>
<text x="57.30" y="181.80" font-size="7.3" font-weight="normal" fill="#aa3039" text-anchor="start" stroke="#aa3039" stroke-width="0.12">368.7</text>
<text x="109.30" y="177.60" font-size="7.3" font-weight="normal" fill="#aa3039" text-anchor="start" stroke="#aa3039" stroke-width="0.12">490.1</text>
<text x="168.40" y="136.20" font-size="7.3" font-weight="normal" fill="#aa3039" text-anchor="start" stroke="#aa3039" stroke-width="0.12">628.1</text>
<text x="197.60" y="182.60" font-size="7.3" font-weight="normal" fill="#aa3039" text-anchor="start" stroke="#aa3039" stroke-width="0.12">702.08</text>
<text x="230.00" y="178.80" font-size="7.3" font-weight="normal" fill="#aa3039" text-anchor="start" stroke="#aa3039" stroke-width="0.12">766.2</text>
<text x="239.50" y="168.00" font-size="7.3" font-weight="normal" fill="#aa3039" text-anchor="start" stroke="#aa3039" stroke-width="0.12">802.2</text>
<text x="253.50" y="182.60" font-size="7.3" font-weight="normal" fill="#aa3039" text-anchor="start" stroke="#aa3039" stroke-width="0.12">831.9</text>
<text x="281.60" y="178.60" font-size="7.3" font-weight="normal" fill="#aa3039" text-anchor="start" stroke="#aa3039" stroke-width="0.12">900.4</text>
<text x="366.40" y="178.80" font-size="7.3" font-weight="normal" fill="#aa3039" text-anchor="start" stroke="#aa3039" stroke-width="0.12">1093.6</text>
<text x="395.70" y="166.00" font-size="7.3" font-weight="normal" fill="#aa3039" text-anchor="start" stroke="#aa3039" stroke-width="0.12">1171.5</text>
<text x="432.10" y="170.20" font-size="7.3" font-weight="normal" fill="#aa3039" text-anchor="start" stroke="#aa3039" stroke-width="0.12">1255.6</text>
<text x="437.50" y="146.80" font-size="7.3" font-weight="normal" fill="#aa3039" text-anchor="start" stroke="#aa3039" stroke-width="0.12">1267.5</text>
<text x="437.40" y="77.50" font-size="7.3" font-weight="normal" fill="#aa3039" text-anchor="start" stroke="#aa3039" stroke-width="0.12">1269.6</text>
<text x="470.10" y="176.90" font-size="7.3" font-weight="normal" fill="#aa3039" text-anchor="start" stroke="#aa3039" stroke-width="0.12">1351.7</text>
<text x="473.30" y="168.80" font-size="7.3" font-weight="normal" fill="#aa3039" text-anchor="start" stroke="#aa3039" stroke-width="0.12">1353.6</text>
<text x="504.00" y="169.60" font-size="7.3" font-weight="normal" fill="#aa3039" text-anchor="start" stroke="#aa3039" stroke-width="0.12">1429.7</text>
<text x="159.60" y="123.00" font-size="7.3" font-weight="bold" fill="#000" stroke="#000" stroke-width="0.12"><tspan font-size="4.6" dy="-2.60">0,4</tspan><tspan dy="2.60">A</tspan><tspan font-size="5.0" dy="1.60">2</tspan><tspan dy="-1.60"> <tspan stroke-width="0.35">-</tspan> 9:0(OH)</tspan></text>
<text x="221.20" y="153.00" font-size="7.3" font-weight="bold" fill="#000" stroke="#000" stroke-width="0.12">Y<tspan font-size="5.0" dy="1.60">1</tspan></text>
<line x1="225.50" y1="155.30" x2="232.90" y2="170.50" stroke="#333" stroke-width="0.5"/>
<text x="241.00" y="158.60" font-size="7.3" font-weight="bold" fill="#000" stroke="#000" stroke-width="0.12"><tspan font-size="4.6" dy="-2.60">0,4</tspan><tspan dy="2.60">A</tspan><tspan font-size="5.0" dy="1.60">2</tspan></text>
<text x="341.80" y="154.00" font-size="7.3" font-weight="bold" fill="#000" text-anchor="start" stroke="#000" stroke-width="0.12"><tspan stroke-width="0.35">-</tspan> 15:0(OH)</text>
<text x="341.80" y="161.40" font-size="7.3" font-weight="bold" fill="#000" text-anchor="start" stroke="#000" stroke-width="0.12"><tspan stroke-width="0.35">-</tspan> HexA</text>
<line x1="363.60" y1="165.00" x2="369.00" y2="172.00" stroke="#333" stroke-width="0.5"/>
<text x="363.20" y="131.90" font-size="7.3" font-weight="bold" fill="#000" text-anchor="start" stroke="#000" stroke-width="0.12"><tspan stroke-width="0.35">-</tspan> 15:0(OH)</text>
<text x="363.20" y="139.40" font-size="7.3" font-weight="bold" fill="#000" stroke="#000" stroke-width="0.12"><tspan stroke-width="0.35">-</tspan> H<tspan font-size="5.0" dy="1.60">3</tspan><tspan dy="-1.60">PO</tspan><tspan font-size="5.0" dy="1.60">4</tspan></text>
<line x1="382.90" y1="142.90" x2="395.00" y2="155.00" stroke="#333" stroke-width="0.5"/>
<text x="406.40" y="143.60" font-size="7.3" font-weight="bold" fill="#000" text-anchor="start" stroke="#000" stroke-width="0.12"><tspan stroke-width="0.35">-</tspan> 9:0(OH)</text>
<text x="406.40" y="151.30" font-size="7.3" font-weight="bold" fill="#000" stroke="#000" stroke-width="0.12"><tspan stroke-width="0.35">-</tspan> H<tspan font-size="5.0" dy="1.60">3</tspan><tspan dy="-1.60">PO</tspan><tspan font-size="5.0" dy="1.60">4</tspan></text>
<line x1="429.10" y1="155.00" x2="432.40" y2="161.60" stroke="#333" stroke-width="0.5"/>
<text x="430.00" y="67.60" font-size="7.3" font-weight="bold" fill="#000" text-anchor="start" stroke="#000" stroke-width="0.12"><tspan stroke-width="0.35">-</tspan> 15:0(OH)</text>
<text x="466.00" y="144.40" font-size="7.3" font-weight="bold" fill="#000" text-anchor="start" stroke="#000" stroke-width="0.12"><tspan stroke-width="0.35">-</tspan> 9:0(OH)</text>
<text x="508.00" y="158.30" font-size="7.3" font-weight="bold" fill="#000" stroke="#000" stroke-width="0.12"><tspan stroke-width="0.35">-</tspan> H<tspan font-size="5.0" dy="1.60">3</tspan><tspan dy="-1.60">PO</tspan><tspan font-size="5.0" dy="1.60">4</tspan></text>
<text x="43.90" y="409.55" font-size="7.3" font-weight="bold" fill="#000" text-anchor="end" stroke="#000" stroke-width="0.12">0</text>
<text x="43.90" y="398.84" font-size="7.3" font-weight="bold" fill="#000" text-anchor="end" stroke="#000" stroke-width="0.12">10</text>
<text x="43.90" y="388.13" font-size="7.3" font-weight="bold" fill="#000" text-anchor="end" stroke="#000" stroke-width="0.12">20</text>
<text x="43.90" y="377.42" font-size="7.3" font-weight="bold" fill="#000" text-anchor="end" stroke="#000" stroke-width="0.12">30</text>
<text x="43.90" y="366.71" font-size="7.3" font-weight="bold" fill="#000" text-anchor="end" stroke="#000" stroke-width="0.12">40</text>
<text x="43.90" y="356.00" font-size="7.3" font-weight="bold" fill="#000" text-anchor="end" stroke="#000" stroke-width="0.12">50</text>
<text x="43.90" y="345.29" font-size="7.3" font-weight="bold" fill="#000" text-anchor="end" stroke="#000" stroke-width="0.12">60</text>
<text x="43.90" y="334.58" font-size="7.3" font-weight="bold" fill="#000" text-anchor="end" stroke="#000" stroke-width="0.12">70</text>
<text x="43.90" y="323.87" font-size="7.3" font-weight="bold" fill="#000" text-anchor="end" stroke="#000" stroke-width="0.12">80</text>
<text x="43.90" y="313.16" font-size="7.3" font-weight="bold" fill="#000" text-anchor="end" stroke="#000" stroke-width="0.12">90</text>
<text x="43.90" y="302.45" font-size="7.3" font-weight="bold" fill="#000" text-anchor="end" stroke="#000" stroke-width="0.12">100</text>
<line x1="48.2" y1="300" x2="48.2" y2="406.5" stroke="#c8c8c8" stroke-width="0.5" stroke-dasharray="0.6,0.6"/>
<text x="47.00" y="416.20" font-size="7.3" font-weight="bold" fill="#000" text-anchor="middle" stroke="#000" stroke-width="0.12">403</text>
<text x="144.50" y="416.20" font-size="7.3" font-weight="bold" fill="#000" text-anchor="middle" stroke="#000" stroke-width="0.12">592</text>
<text x="242.00" y="416.20" font-size="7.3" font-weight="bold" fill="#000" text-anchor="middle" stroke="#000" stroke-width="0.12">781</text>
<text x="339.50" y="416.20" font-size="7.3" font-weight="bold" fill="#000" text-anchor="middle" stroke="#000" stroke-width="0.12">970</text>
<text x="437.00" y="416.20" font-size="7.3" font-weight="bold" fill="#000" text-anchor="middle" stroke="#000" stroke-width="0.12">1159</text>
<text x="534.50" y="416.20" font-size="7.3" font-weight="bold" fill="#000" text-anchor="middle" stroke="#000" stroke-width="0.12">1348</text>
<text x="10.30" y="302.20" font-size="8.4" font-weight="bold" fill="#000" text-anchor="start" stroke="#000" stroke-width="0.3">b</text>
<text x="0" y="0" font-size="7.3" font-weight="bold" fill="#f80c10" stroke="#f80c10" stroke-width="0.28" text-anchor="middle" transform="translate(25.8,359) rotate(-90)">% Intensity</text>
<text x="266.4" y="424.0" font-size="7.3" font-weight="bold" fill="#f80c10" stroke="#f80c10" stroke-width="0.28">Mass (<tspan font-style="italic">m/z</tspan>)</text>
<line x1="48.60" y1="408.00" x2="536.00" y2="408.00" stroke="#d8d8d8" stroke-width="0.8"/>
<path d="M48.60,402.96 L48.85,406.46 L49.10,404.21 L49.35,406.69 L49.60,404.84 L49.85,406.96 L50.10,405.20 L50.35,406.80 L50.60,405.19 L50.85,406.92 L51.10,405.75 L51.35,406.85 L51.60,405.02 L51.85,406.94 L52.10,405.24 L52.35,406.89 L52.60,405.90 L52.85,407.17 L53.10,405.46 L53.35,403.90 L53.60,404.95 L53.85,406.76 L54.10,405.42 L54.35,407.04 L54.60,405.41 L54.85,406.75 L55.10,405.31 L55.35,406.95 L55.60,405.79 L55.85,406.93 L56.10,405.52 L56.35,407.01 L56.60,405.15 L56.85,406.80 L57.10,405.45 L57.35,402.88 L57.60,405.18 L57.85,407.02 L58.10,405.66 L58.35,407.06 L58.60,405.93 L58.85,406.91 L59.10,405.30 L59.35,406.99 L59.60,405.74 L59.85,406.60 L60.10,405.16 L60.35,406.71 L60.60,404.38 L60.85,406.16 L61.10,404.78 L61.35,406.45 L61.60,404.45 L61.85,406.49 L62.10,405.05 L62.35,406.48 L62.60,405.25 L62.85,406.29 L63.10,404.99 L63.35,406.53 L63.60,405.18 L63.85,406.61 L64.10,404.58 L64.35,406.78 L64.60,402.54 L64.85,403.60 L65.10,404.83 L65.35,403.06 L65.60,403.42 L65.85,406.55 L66.10,405.11 L66.35,406.63 L66.60,404.93 L66.85,406.87 L67.10,404.99 L67.35,406.92 L67.60,402.60 L67.85,406.81 L68.10,404.63 L68.35,406.79 L68.60,405.39 L68.85,406.33 L69.10,404.52 L69.35,406.58 L69.60,404.93 L69.85,403.59 L70.10,404.76 L70.35,406.58 L70.60,405.28 L70.85,407.08 L71.10,405.37 L71.35,407.29 L71.60,405.91 L71.85,407.03 L72.10,405.78 L72.35,406.87 L72.60,405.33 L72.85,406.90 L73.10,402.84 L73.35,407.07 L73.60,405.61 L73.85,407.14 L74.10,405.14 L74.35,407.04 L74.60,404.97 L74.85,406.73 L75.10,405.08 L75.35,406.64 L75.60,404.78 L75.85,403.67 L76.10,405.15 L76.35,406.68 L76.60,404.98 L76.85,406.73 L77.10,404.76 L77.35,406.50 L77.60,404.65 L77.85,406.56 L78.10,405.19 L78.35,406.48 L78.60,404.63 L78.85,406.44 L79.10,404.79 L79.35,406.75 L79.60,404.78 L79.85,406.86 L80.10,405.29 L80.35,406.73 L80.60,402.55 L80.85,406.99 L81.10,405.65 L81.35,406.82 L81.60,403.68 L81.85,406.62 L82.10,405.04 L82.35,406.62 L82.60,405.17 L82.85,406.75 L83.10,405.40 L83.35,406.93 L83.60,405.76 L83.85,402.66 L84.10,405.37 L84.35,403.54 L84.60,406.10 L84.85,406.90 L85.10,405.26 L85.35,402.97 L85.60,405.66 L85.85,407.18 L86.10,405.95 L86.35,407.10 L86.60,405.46 L86.85,406.89 L87.10,405.56 L87.35,406.84 L87.60,405.86 L87.85,406.76 L88.10,405.72 L88.35,407.17 L88.60,405.84 L88.85,406.96 L89.10,405.37 L89.35,406.96 L89.60,405.90 L89.85,407.29 L90.10,405.17 L90.35,407.05 L90.60,405.65 L90.85,407.37 L91.10,405.68 L91.35,407.26 L91.60,405.65 L91.85,407.09 L92.10,406.10 L92.35,407.31 L92.60,405.75 L92.85,407.41 L93.10,405.42 L93.35,407.09 L93.60,404.96 L93.85,407.13 L94.10,405.33 L94.35,407.07 L94.60,405.23 L94.85,407.10 L95.10,404.72 L95.35,406.67 L95.60,405.13 L95.85,406.75 L96.10,404.85 L96.35,406.93 L96.60,405.41 L96.85,407.02 L97.10,405.20 L97.35,407.09 L97.60,405.66 L97.85,406.79 L98.10,405.20 L98.35,406.92 L98.60,405.18 L98.85,406.89 L99.10,405.44 L99.35,404.55 L99.60,405.39 L99.85,406.73 L100.10,403.66 L100.35,406.78 L100.60,404.27 L100.85,402.60 L101.10,405.09 L101.35,407.11 L101.60,405.98 L101.85,403.59 L102.10,405.25 L102.35,406.80 L102.60,405.48 L102.85,403.96 L103.10,405.24 L103.35,406.53 L103.60,405.57 L103.85,406.83 L104.10,405.66 L104.35,406.59 L104.60,405.39 L104.85,406.58 L105.10,405.17 L105.35,406.71 L105.60,402.41 L105.85,406.86 L106.10,405.17 L106.35,404.43 L106.60,405.36 L106.85,406.80 L107.10,405.56 L107.35,407.00 L107.60,405.28 L107.85,406.88 L108.10,405.43 L108.35,407.06 L108.60,405.64 L108.85,406.73 L109.10,404.09 L109.35,406.74 L109.60,405.45 L109.85,403.71 L110.10,404.59 L110.35,406.67 L110.60,405.13 L110.85,406.63 L111.10,403.90 L111.35,406.64 L111.60,405.04 L111.85,406.63 L112.10,404.53 L112.35,406.81 L112.60,402.97 L112.85,406.81 L113.10,405.49 L113.35,406.91 L113.60,405.81 L113.85,403.39 L114.10,404.98 L114.35,406.93 L114.60,406.03 L114.85,406.77 L115.10,405.71 L115.35,406.92 L115.60,405.99 L115.85,406.96 L116.10,405.23 L116.35,406.89 L116.60,402.37 L116.85,406.71 L117.10,404.77 L117.35,406.71 L117.60,405.44 L117.85,402.40 L118.10,405.29 L118.35,406.99 L118.60,405.53 L118.85,406.76 L119.10,405.18 L119.35,406.88 L119.60,405.95 L119.85,406.85 L120.10,405.26 L120.35,407.02 L120.60,405.81 L120.85,406.87 L121.10,405.36 L121.35,403.54 L121.60,405.08 L121.85,406.95 L122.10,404.80 L122.35,406.81 L122.60,405.30 L122.85,406.68 L123.10,405.63 L123.35,406.77 L123.60,405.09 L123.85,403.85 L124.10,404.78 L124.35,406.62 L124.60,405.14 L124.85,406.73 L125.10,405.25 L125.35,406.74 L125.60,404.47 L125.85,406.75 L126.10,405.10 L126.35,404.78 L126.60,405.21 L126.85,406.76 L127.10,403.73 L127.35,406.93 L127.60,405.35 L127.85,403.28 L128.10,405.64 L128.35,406.95 L128.60,405.22 L128.85,406.48 L129.10,404.75 L129.35,406.70 L129.60,405.55 L129.85,406.73 L130.10,404.75 L130.35,406.87 L130.60,405.59 L130.85,402.54 L131.10,405.40 L131.35,406.62 L131.60,404.64 L131.85,406.37 L132.10,405.14 L132.35,406.47 L132.60,405.18 L132.85,406.38 L133.10,404.64 L133.35,406.32 L133.60,404.77 L133.85,406.28 L134.10,405.27 L134.35,402.96 L134.60,404.25 L134.85,406.31 L135.10,404.38 L135.35,406.50 L135.60,404.38 L135.85,406.34 L136.10,404.87 L136.35,406.50 L136.60,405.04 L136.85,406.22 L137.10,405.29 L137.35,406.28 L137.60,405.44 L137.85,406.42 L138.10,405.10 L138.35,403.34 L138.60,404.62 L138.85,406.44 L139.10,405.16 L139.35,406.08 L139.60,405.13 L139.85,402.06 L140.10,404.67 L140.35,406.26 L140.60,404.38 L140.85,406.14 L141.10,404.65 L141.35,406.28 L141.60,404.68 L141.85,406.13 L142.10,404.71 L142.35,402.74 L142.60,404.29 L142.85,406.12 L143.10,404.68 L143.35,406.04 L143.60,404.36 L143.85,406.17 L144.10,404.83 L144.35,406.02 L144.60,404.16 L144.85,405.99 L145.10,404.66 L145.35,406.18 L145.60,404.52 L145.85,406.11 L146.10,404.84 L146.35,406.07 L146.60,403.28 L146.85,406.07 L147.10,404.53 L147.35,406.10 L147.60,404.27 L147.85,405.87 L148.10,404.61 L148.35,405.90 L148.60,403.90 L148.85,405.93 L149.10,404.43 L149.35,406.03 L149.60,404.17 L149.85,402.45 L150.10,404.59 L150.35,405.87 L150.60,404.34 L150.85,405.83 L151.10,404.47 L151.35,405.92 L151.60,404.75 L151.85,405.96 L152.10,404.10 L152.35,405.91 L152.60,404.18 L152.85,405.75 L153.10,404.00 L153.35,405.98 L153.60,404.36 L153.85,405.99 L154.10,404.72 L154.35,405.96 L154.60,404.89 L154.85,406.02 L155.10,404.38 L155.35,405.89 L155.60,404.59 L155.85,406.16 L156.10,404.36 L156.35,405.92 L156.60,404.91 L156.85,406.07 L157.10,404.58 L157.35,406.36 L157.60,404.90 L157.85,406.15 L158.10,404.78 L158.35,406.41 L158.60,404.91 L158.85,401.92 L159.10,405.05 L159.35,406.28 L159.60,404.61 L159.85,406.28 L160.10,404.58 L160.35,406.36 L160.60,402.39 L160.85,406.26 L161.10,404.76 L161.35,406.05 L161.60,404.75 L161.85,406.16 L162.10,405.37 L162.35,406.18 L162.60,404.25 L162.85,406.23 L163.10,404.92 L163.35,403.57 L163.60,404.99 L163.85,406.52 L164.10,405.13 L164.35,406.58 L164.60,404.10 L164.85,406.64 L165.10,405.56 L165.35,406.81 L165.60,404.81 L165.85,404.36 L166.10,405.01 L166.35,406.51 L166.60,405.40 L166.85,406.31 L167.10,405.24 L167.35,406.39 L167.60,404.34 L167.85,406.29 L168.10,402.13 L168.35,406.22 L168.60,404.33 L168.85,406.48 L169.10,402.46 L169.35,406.42 L169.60,405.13 L169.85,406.58 L170.10,405.48 L170.35,406.64 L170.60,405.25 L170.85,406.74 L171.10,403.64 L171.35,406.44 L171.60,405.35 L171.85,406.65 L172.10,405.04 L172.35,406.58 L172.60,405.08 L172.85,402.97 L173.10,404.67 L173.35,406.33 L173.60,405.61 L173.85,406.73 L174.10,404.61 L174.35,406.60 L174.60,405.03 L174.85,406.44 L175.10,402.55 L175.35,402.93 L175.60,403.93 L175.85,406.32 L176.10,404.33 L176.35,406.63 L176.60,404.50 L176.85,404.22 L177.10,404.65 L177.35,406.15 L177.60,404.74 L177.85,406.40 L178.10,405.04 L178.35,406.54 L178.60,405.12 L178.85,406.60 L179.10,404.45 L179.35,406.69 L179.60,404.60 L179.85,406.33 L180.10,404.49 L180.35,406.33 L180.60,404.47 L180.85,406.43 L181.10,405.21 L181.35,406.38 L181.60,404.36 L181.85,406.63 L182.10,404.86 L182.35,406.41 L182.60,404.91 L182.85,406.75 L183.10,404.99 L183.35,406.45 L183.60,405.57 L183.85,406.57 L184.10,405.24 L184.35,402.85 L184.60,405.21 L184.85,406.27 L185.10,404.70 L185.35,406.33 L185.60,404.88 L185.85,406.04 L186.10,404.73 L186.35,403.65 L186.60,405.14 L186.85,406.18 L187.10,404.05 L187.35,406.38 L187.60,404.93 L187.85,406.19 L188.10,404.80 L188.35,406.15 L188.60,404.74 L188.85,402.20 L189.10,404.89 L189.35,406.67 L189.60,404.71 L189.85,406.76 L190.10,405.03 L190.35,406.59 L190.60,405.27 L190.85,403.46 L191.10,404.73 L191.35,406.76 L191.60,405.26 L191.85,406.70 L192.10,405.07 L192.35,406.61 L192.60,404.70 L192.85,406.63 L193.10,404.75 L193.35,406.25 L193.60,404.77 L193.85,406.51 L194.10,405.37 L194.35,406.73 L194.60,404.55 L194.85,406.56 L195.10,405.44 L195.35,406.39 L195.60,403.86 L195.85,406.31 L196.10,404.93 L196.35,406.42 L196.60,404.56 L196.85,406.46 L197.10,404.52 L197.35,406.30 L197.60,403.20 L197.85,406.07 L198.10,404.27 L198.35,406.30 L198.60,404.83 L198.85,406.21 L199.10,404.53 L199.35,406.37 L199.60,404.51 L199.85,406.15 L200.10,404.24 L200.35,405.99 L200.60,404.60 L200.85,406.07 L201.10,404.64 L201.35,405.99 L201.60,404.54 L201.85,406.16 L202.10,404.72 L202.35,405.94 L202.60,404.52 L202.85,406.13 L203.10,405.08 L203.35,406.37 L203.60,404.03 L203.85,406.26 L204.10,403.05 L204.35,406.13 L204.60,404.53 L204.85,406.38 L205.10,404.71 L205.35,406.31 L205.60,403.70 L205.85,406.18 L206.10,404.71 L206.35,403.13 L206.60,404.62 L206.85,401.85 L207.10,404.02 L207.35,405.91 L207.60,402.37 L207.85,406.19 L208.10,402.43 L208.35,406.38 L208.60,405.11 L208.85,406.36 L209.10,405.10 L209.35,406.21 L209.60,404.99 L209.85,406.46 L210.10,405.04 L210.35,406.26 L210.60,402.18 L210.85,406.39 L211.10,404.40 L211.35,402.45 L211.60,405.23 L211.85,406.30 L212.10,405.47 L212.35,406.42 L212.60,405.04 L212.85,406.53 L213.10,405.20 L213.35,403.85 L213.60,405.53 L213.85,406.49 L214.10,404.68 L214.35,406.39 L214.60,404.49 L214.85,406.59 L215.10,404.40 L215.35,406.62 L215.60,405.24 L215.85,406.28 L216.10,404.68 L216.35,406.18 L216.60,405.11 L216.85,406.28 L217.10,404.69 L217.35,406.51 L217.60,404.88 L217.85,406.43 L218.10,402.60 L218.35,406.77 L218.60,404.63 L218.85,406.61 L219.10,405.07 L219.35,404.18 L219.60,404.74 L219.85,406.48 L220.10,405.04 L220.35,406.27 L220.60,405.41 L220.85,406.29 L221.10,404.55 L221.35,402.96 L221.60,404.78 L221.85,406.55 L222.10,404.82 L222.35,406.33 L222.60,404.93 L222.85,406.43 L223.10,404.44 L223.35,406.61 L223.60,405.13 L223.85,406.56 L224.10,405.00 L224.35,406.46 L224.60,404.40 L224.85,406.31 L225.10,404.55 L225.35,406.03 L225.60,405.09 L225.85,402.93 L226.10,404.24 L226.35,406.19 L226.60,404.38 L226.85,406.37 L227.10,404.41 L227.35,406.53 L227.60,404.92 L227.85,406.96 L228.10,404.92 L228.35,406.93 L228.60,404.90 L228.85,406.81 L229.10,402.72 L229.35,406.77 L229.60,405.61 L229.85,406.92 L230.10,405.15 L230.35,406.69 L230.60,405.49 L230.85,404.07 L231.10,403.46 L231.35,404.72 L231.60,405.29 L231.85,406.75 L232.10,402.47 L232.35,406.72 L232.60,405.46 L232.85,402.57 L233.10,405.56 L233.35,406.55 L233.60,405.73 L233.85,406.63 L234.10,405.13 L234.35,406.76 L234.60,405.32 L234.85,406.55 L235.10,405.15 L235.35,406.53 L235.60,404.56 L235.85,406.34 L236.10,404.80 L236.35,403.86 L236.60,405.11 L236.85,406.35 L237.10,402.17 L237.35,406.57 L237.60,404.60 L237.85,406.54 L238.10,404.37 L238.35,406.56 L238.60,405.59 L238.85,406.79 L239.10,404.88 L239.35,402.93 L239.60,404.49 L239.85,406.67 L240.10,405.34 L240.35,406.80 L240.60,405.77 L240.85,406.58 L241.10,404.92 L241.35,403.35 L241.60,405.47 L241.85,406.75 L242.10,405.65 L242.35,406.70 L242.60,404.87 L242.85,406.61 L243.10,405.03 L243.35,406.74 L243.60,405.45 L243.85,406.41 L244.10,405.08 L244.35,406.48 L244.60,405.49 L244.85,406.48 L245.10,404.63 L245.35,406.67 L245.60,404.71 L245.85,406.56 L246.10,403.35 L246.35,406.54 L246.60,404.92 L246.85,406.25 L247.10,404.28 L247.35,406.63 L247.60,405.19 L247.85,406.12 L248.10,404.64 L248.35,406.01 L248.60,404.53 L248.85,406.22 L249.10,404.94 L249.35,406.34 L249.60,404.17 L249.85,406.18 L250.10,404.16 L250.35,406.20 L250.60,404.87 L250.85,406.29 L251.10,404.70 L251.35,406.25 L251.60,405.13 L251.85,406.33 L252.10,405.14 L252.35,406.28 L252.60,405.34 L252.85,406.32 L253.10,404.97 L253.35,406.31 L253.60,404.05 L253.85,406.06 L254.10,404.48 L254.35,406.10 L254.60,405.18 L254.85,406.52 L255.10,405.17 L255.35,406.24 L255.60,404.56 L255.85,406.51 L256.10,405.22 L256.35,406.40 L256.60,404.66 L256.85,406.43 L257.10,403.19 L257.35,406.40 L257.60,405.21 L257.85,406.51 L258.10,403.25 L258.35,406.57 L258.60,404.09 L258.85,406.80 L259.10,404.99 L259.35,406.44 L259.60,404.82 L259.85,406.47 L260.10,405.25 L260.35,406.22 L260.60,404.86 L260.85,406.63 L261.10,405.50 L261.35,406.62 L261.60,402.30 L261.85,406.63 L262.10,405.13 L262.35,406.79 L262.60,404.56 L262.85,406.65 L263.10,405.40 L263.35,406.38 L263.60,405.21 L263.85,406.55 L264.10,405.56 L264.35,402.67 L264.60,405.13 L264.85,407.14 L265.10,405.90 L265.35,406.96 L265.60,405.76 L265.85,406.92 L266.10,406.00 L266.35,406.87 L266.60,405.04 L266.85,407.05 L267.10,405.81 L267.35,406.85 L267.60,402.63 L267.85,406.80 L268.10,405.04 L268.35,406.90 L268.60,405.78 L268.85,406.79 L269.10,405.17 L269.35,406.99 L269.60,404.95 L269.85,406.89 L270.10,405.89 L270.35,406.94 L270.60,405.36 L270.85,406.82 L271.10,405.97 L271.35,406.95 L271.60,405.92 L271.85,406.80 L272.10,405.59 L272.35,406.71 L272.60,404.84 L272.85,406.82 L273.10,404.96 L273.35,402.86 L273.60,405.38 L273.85,406.91 L274.10,405.05 L274.35,406.63 L274.60,404.23 L274.85,406.59 L275.10,404.81 L275.35,406.60 L275.60,404.91 L275.85,406.15 L276.10,404.27 L276.35,406.53 L276.60,403.60 L276.85,406.57 L277.10,405.15 L277.35,406.54 L277.60,404.87 L277.85,403.02 L278.10,403.52 L278.35,406.35 L278.60,404.58 L278.85,406.70 L279.10,405.64 L279.35,406.87 L279.60,405.08 L279.85,403.03 L280.10,402.84 L280.35,406.81 L280.60,405.50 L280.85,406.49 L281.10,404.73 L281.35,406.67 L281.60,405.28 L281.85,406.62 L282.10,405.25 L282.35,406.70 L282.60,405.00 L282.85,406.88 L283.10,405.06 L283.35,406.80 L283.60,405.87 L283.85,407.02 L284.10,405.90 L284.35,407.00 L284.60,404.92 L284.85,407.22 L285.10,405.25 L285.35,407.20 L285.60,405.64 L285.85,407.13 L286.10,405.91 L286.35,407.18 L286.60,405.65 L286.85,406.71 L287.10,405.50 L287.35,406.78 L287.60,404.76 L287.85,403.57 L288.10,405.52 L288.35,406.66 L288.60,404.59 L288.85,406.75 L289.10,404.52 L289.35,406.86 L289.60,405.83 L289.85,406.93 L290.10,405.51 L290.35,406.72 L290.60,405.71 L290.85,406.74 L291.10,405.02 L291.35,406.60 L291.60,405.60 L291.85,406.71 L292.10,404.71 L292.35,406.76 L292.60,405.00 L292.85,406.70 L293.10,405.21 L293.35,406.73 L293.60,405.64 L293.85,406.61 L294.10,405.65 L294.35,406.76 L294.60,405.31 L294.85,406.73 L295.10,405.46 L295.35,406.86 L295.60,405.59 L295.85,407.06 L296.10,405.31 L296.35,406.76 L296.60,405.42 L296.85,406.95 L297.10,405.15 L297.35,406.90 L297.60,405.19 L297.85,406.95 L298.10,405.78 L298.35,406.87 L298.60,405.58 L298.85,406.76 L299.10,405.63 L299.35,406.93 L299.60,405.68 L299.85,407.02 L300.10,405.13 L300.35,406.93 L300.60,406.05 L300.85,407.10 L301.10,405.97 L301.35,407.04 L301.60,403.13 L301.85,406.72 L302.10,404.94 L302.35,406.55 L302.60,405.27 L302.85,406.63 L303.10,405.24 L303.35,406.45 L303.60,404.95 L303.85,406.55 L304.10,405.16 L304.35,406.92 L304.60,404.83 L304.85,406.84 L305.10,405.60 L305.35,406.68 L305.60,404.82 L305.85,406.93 L306.10,405.75 L306.35,406.91 L306.60,405.35 L306.85,406.78 L307.10,405.40 L307.35,406.73 L307.60,404.82 L307.85,406.98 L308.10,405.31 L308.35,406.69 L308.60,405.79 L308.85,406.82 L309.10,404.84 L309.35,406.82 L309.60,405.51 L309.85,404.28 L310.10,404.79 L310.35,406.47 L310.60,404.54 L310.85,406.35 L311.10,404.47 L311.35,406.45 L311.60,404.57 L311.85,406.43 L312.10,405.29 L312.35,406.67 L312.60,405.26 L312.85,406.63 L313.10,404.63 L313.35,403.93 L313.60,404.75 L313.85,406.45 L314.10,404.61 L314.35,406.65 L314.60,405.13 L314.85,406.45 L315.10,404.87 L315.35,406.74 L315.60,405.45 L315.85,406.85 L316.10,405.56 L316.35,406.76 L316.60,405.53 L316.85,406.75 L317.10,405.65 L317.35,407.06 L317.60,405.13 L317.85,407.09 L318.10,405.53 L318.35,407.07 L318.60,404.34 L318.85,406.97 L319.10,405.82 L319.35,407.06 L319.60,405.75 L319.85,407.26 L320.10,405.66 L320.35,407.05 L320.60,405.62 L320.85,407.22 L321.10,405.36 L321.35,407.00 L321.60,405.18 L321.85,406.81 L322.10,405.51 L322.35,407.27 L322.60,405.42 L322.85,406.69 L323.10,404.74 L323.35,406.89 L323.60,405.34 L323.85,406.87 L324.10,404.89 L324.35,406.54 L324.60,405.22 L324.85,406.75 L325.10,405.80 L325.35,406.87 L325.60,405.21 L325.85,406.97 L326.10,405.36 L326.35,407.00 L326.60,405.35 L326.85,407.18 L327.10,405.30 L327.35,406.76 L327.60,405.55 L327.85,406.86 L328.10,405.69 L328.35,406.90 L328.60,405.79 L328.85,406.97 L329.10,405.14 L329.35,406.96 L329.60,405.11 L329.85,406.93 L330.10,405.87 L330.35,406.97 L330.60,405.66 L330.85,406.54 L331.10,405.18 L331.35,406.69 L331.60,405.22 L331.85,406.70 L332.10,404.81 L332.35,406.82 L332.60,405.63 L332.85,406.83 L333.10,405.03 L333.35,406.87 L333.60,405.44 L333.85,406.70 L334.10,405.70 L334.35,406.73 L334.60,405.26 L334.85,406.96 L335.10,405.33 L335.35,406.84 L335.60,405.21 L335.85,406.90 L336.10,405.07 L336.35,407.03 L336.60,405.70 L336.85,406.93 L337.10,405.94 L337.35,406.89 L337.60,405.65 L337.85,406.69 L338.10,404.82 L338.35,406.80 L338.60,405.25 L338.85,406.64 L339.10,405.42 L339.35,406.52 L339.60,404.93 L339.85,403.75 L340.10,405.31 L340.35,406.96 L340.60,405.81 L340.85,407.05 L341.10,405.04 L341.35,406.92 L341.60,405.47 L341.85,406.65 L342.10,404.75 L342.35,406.70 L342.60,405.30 L342.85,406.65 L343.10,405.86 L343.35,406.52 L343.60,404.82 L343.85,406.69 L344.10,404.72 L344.35,406.76 L344.60,405.54 L344.85,403.51 L345.10,403.48 L345.35,406.68 L345.60,404.83 L345.85,406.75 L346.10,404.74 L346.35,406.89 L346.60,405.18 L346.85,406.95 L347.10,404.88 L347.35,406.67 L347.60,405.51 L347.85,406.46 L348.10,404.84 L348.35,406.56 L348.60,405.39 L348.85,406.60 L349.10,405.40 L349.35,406.68 L349.60,405.37 L349.85,406.63 L350.10,405.16 L350.35,406.67 L350.60,404.80 L350.85,406.66 L351.10,405.75 L351.35,406.80 L351.60,405.59 L351.85,406.72 L352.10,405.67 L352.35,406.63 L352.60,404.96 L352.85,406.67 L353.10,405.33 L353.35,406.80 L353.60,405.41 L353.85,406.71 L354.10,405.30 L354.35,406.81 L354.60,405.74 L354.85,406.67 L355.10,405.08 L355.35,406.87 L355.60,405.59 L355.85,407.01 L356.10,403.39 L356.35,406.95 L356.60,405.08 L356.85,407.02 L357.10,405.34 L357.35,407.00 L357.60,404.91 L357.85,406.96 L358.10,405.84 L358.35,406.62 L358.60,405.55 L358.85,406.67 L359.10,404.86 L359.35,402.91 L359.60,405.73 L359.85,406.62 L360.10,405.30 L360.35,406.76 L360.60,405.77 L360.85,406.91 L361.10,404.96 L361.35,407.04 L361.60,405.06 L361.85,406.98 L362.10,405.85 L362.35,406.80 L362.60,405.24 L362.85,406.76 L363.10,404.61 L363.35,406.70 L363.60,405.14 L363.85,406.35 L364.10,404.88 L364.35,406.56 L364.60,405.32 L364.85,406.45 L365.10,404.54 L365.35,406.47 L365.60,404.88 L365.85,406.65 L366.10,403.78 L366.35,406.66 L366.60,404.75 L366.85,403.27 L367.10,404.74 L367.35,406.90 L367.60,404.77 L367.85,407.04 L368.10,405.30 L368.35,406.95 L368.60,404.82 L368.85,403.61 L369.10,405.06 L369.35,407.04 L369.60,405.42 L369.85,406.69 L370.10,405.30 L370.35,406.71 L370.60,404.70 L370.85,406.77 L371.10,405.56 L371.35,406.57 L371.60,405.38 L371.85,406.59 L372.10,404.68 L372.35,406.63 L372.60,404.64 L372.85,406.83 L373.10,404.75 L373.35,406.65 L373.60,404.81 L373.85,404.33 L374.10,405.19 L374.35,403.86 L374.60,404.66 L374.85,406.74 L375.10,404.98 L375.35,406.89 L375.60,404.70 L375.85,404.15 L376.10,405.30 L376.35,407.01 L376.60,405.28 L376.85,406.95 L377.10,405.58 L377.35,406.86 L377.60,405.30 L377.85,406.83 L378.10,404.83 L378.35,406.89 L378.60,405.16 L378.85,406.89 L379.10,405.69 L379.35,403.11 L379.60,404.90 L379.85,406.76 L380.10,404.64 L380.35,406.71 L380.60,405.28 L380.85,406.56 L381.10,405.18 L381.35,406.52 L381.60,405.48 L381.85,406.61 L382.10,404.90 L382.35,406.81 L382.60,404.82 L382.85,406.57 L383.10,405.62 L383.35,406.82 L383.60,405.68 L383.85,406.86 L384.10,405.86 L384.35,406.58 L384.60,405.63 L384.85,406.70 L385.10,404.75 L385.35,406.45 L385.60,405.07 L385.85,406.50 L386.10,405.56 L386.35,402.68 L386.60,402.46 L386.85,406.80 L387.10,404.95 L387.35,407.04 L387.60,405.32 L387.85,406.93 L388.10,405.48 L388.35,406.85 L388.60,403.15 L388.85,406.83 L389.10,405.86 L389.35,407.02 L389.60,405.23 L389.85,406.89 L390.10,405.13 L390.35,406.78 L390.60,404.98 L390.85,406.89 L391.10,405.24 L391.35,406.97 L391.60,405.50 L391.85,406.81 L392.10,404.80 L392.35,404.30 L392.60,405.78 L392.85,403.84 L393.10,405.77 L393.35,406.84 L393.60,405.40 L393.85,406.95 L394.10,404.94 L394.35,407.12 L394.60,405.37 L394.85,407.30 L395.10,406.18 L395.35,407.23 L395.60,405.52 L395.85,407.41 L396.10,405.39 L396.35,407.46 L396.60,403.34 L396.85,407.33 L397.10,406.11 L397.35,407.50 L397.60,406.36 L397.85,407.43 L398.10,406.41 L398.35,407.29 L398.60,405.61 L398.85,407.17 L399.10,406.18 L399.35,407.14 L399.60,405.63 L399.85,407.29 L400.10,405.83 L400.35,407.16 L400.60,405.51 L400.85,406.99 L401.10,406.02 L401.35,407.06 L401.60,405.70 L401.85,407.14 L402.10,405.37 L402.35,407.18 L402.60,405.26 L402.85,407.03 L403.10,406.16 L403.35,407.17 L403.60,406.03 L403.85,404.63 L404.10,406.04 L404.35,407.22 L404.60,405.89 L404.85,407.07 L405.10,405.73 L405.35,407.28 L405.60,406.21 L405.85,407.16 L406.10,405.44 L406.35,407.12 L406.60,405.20 L406.85,404.64 L407.10,405.35 L407.35,406.96 L407.60,405.37 L407.85,406.92 L408.10,405.32 L408.35,406.73 L408.60,405.62 L408.85,406.79 L409.10,405.50 L409.35,406.74 L409.60,405.51 L409.85,407.05 L410.10,405.43 L410.35,407.11 L410.60,403.88 L410.85,407.03 L411.10,405.50 L411.35,406.91 L411.60,404.97 L411.85,404.47 L412.10,405.08 L412.35,406.51 L412.60,405.44 L412.85,406.54 L413.10,404.29 L413.35,405.94 L413.60,403.61 L413.85,405.27 L414.10,403.29 L414.35,404.31 L414.60,402.61 L414.85,403.94 L415.10,401.00 L415.35,403.89 L415.60,402.23 L415.85,403.83 L416.10,403.28 L416.35,404.99 L416.60,403.72 L416.85,405.56 L417.10,404.69 L417.35,406.55 L417.60,405.21 L417.85,406.77 L418.10,404.97 L418.35,406.77 L418.60,404.87 L418.85,406.98 L419.10,405.14 L419.35,406.70 L419.60,405.24 L419.85,406.88 L420.10,405.27 L420.35,406.67 L420.60,405.21 L420.85,404.38 L421.10,402.79 L421.35,406.85 L421.60,405.17 L421.85,406.83 L422.10,405.07 L422.35,406.98 L422.60,405.50 L422.85,407.22 L423.10,405.07 L423.35,406.84 L423.60,402.67 L423.85,406.78 L424.10,405.05 L424.35,406.84 L424.60,403.22 L424.85,406.79 L425.10,405.81 L425.35,406.99 L425.60,405.61 L425.85,407.16 L426.10,405.86 L426.35,407.26 L426.60,405.05 L426.85,407.15 L427.10,405.99 L427.35,407.36 L427.60,405.50 L427.85,407.25 L428.10,405.34 L428.35,406.96 L428.60,405.80 L428.85,407.09 L429.10,405.15 L429.35,403.30 L429.60,405.74 L429.85,406.93 L430.10,405.60 L430.35,406.75 L430.60,404.85 L430.85,406.88 L431.10,405.51 L431.35,406.61 L431.60,404.35 L431.85,406.54 L432.10,404.43 L432.35,406.57 L432.60,404.75 L432.85,406.32 L433.10,405.36 L433.35,406.61 L433.60,403.12 L433.85,406.79 L434.10,404.87 L434.35,406.54 L434.60,404.56 L434.85,406.40 L435.10,404.84 L435.35,406.60 L435.60,403.39 L435.85,406.39 L436.10,404.52 L436.35,406.60 L436.60,404.70 L436.85,406.96 L437.10,405.29 L437.35,406.86 L437.60,405.46 L437.85,402.22 L438.10,405.13 L438.35,406.66 L438.60,405.69 L438.85,406.80 L439.10,405.49 L439.35,406.49 L439.60,404.60 L439.85,406.53 L440.10,405.52 L440.35,406.88 L440.60,405.56 L440.85,406.60 L441.10,405.25 L441.35,404.24 L441.60,405.74 L441.85,406.56 L442.10,405.10 L442.35,406.84 L442.60,404.50 L442.85,406.64 L443.10,403.10 L443.35,403.20 L443.60,404.67 L443.85,406.60 L444.10,405.29 L444.35,406.79 L444.60,403.98 L444.85,406.82 L445.10,405.79 L445.35,406.77 L445.60,404.85 L445.85,407.15 L446.10,404.92 L446.35,407.02 L446.60,404.94 L446.85,406.99 L447.10,405.73 L447.35,407.08 L447.60,405.23 L447.85,406.89 L448.10,405.21 L448.35,406.78 L448.60,405.52 L448.85,407.17 L449.10,405.06 L449.35,407.07 L449.60,405.64 L449.85,407.04 L450.10,405.56 L450.35,406.65 L450.60,405.01 L450.85,407.07 L451.10,405.25 L451.35,406.96 L451.60,404.78 L451.85,406.79 L452.10,405.13 L452.35,406.82 L452.60,405.04 L452.85,407.33 L453.10,405.59 L453.35,407.38 L453.60,405.35 L453.85,407.16 L454.10,405.70 L454.35,406.99 L454.60,405.50 L454.85,406.88 L455.10,405.71 L455.35,406.86 L455.60,405.56 L455.85,406.62 L456.10,405.52 L456.35,406.35 L456.60,405.39 L456.85,406.39 L457.10,405.55 L457.35,402.27 L457.60,404.54 L457.85,406.73 L458.10,402.88 L458.35,402.69 L458.60,404.83 L458.85,406.87 L459.10,403.38 L459.35,406.70 L459.60,404.02 L459.85,406.49 L460.10,405.15 L460.35,406.92 L460.60,405.38 L460.85,406.56 L461.10,405.27 L461.35,406.53 L461.60,404.47 L461.85,406.60 L462.10,405.21 L462.35,404.20 L462.60,405.37 L462.85,406.38 L463.10,405.54 L463.35,406.44 L463.60,403.21 L463.85,406.54 L464.10,405.18 L464.35,406.82 L464.60,404.54 L464.85,406.62 L465.10,404.41 L465.35,406.80 L465.60,405.45 L465.85,406.44 L466.10,404.93 L466.35,406.68 L466.60,405.08 L466.85,406.57 L467.10,404.22 L467.35,406.25 L467.60,404.71 L467.85,406.35 L468.10,404.49 L468.35,406.34 L468.60,405.06 L468.85,402.82 L469.10,404.85 L469.35,406.61 L469.60,405.30 L469.85,406.86 L470.10,404.88 L470.35,402.80 L470.60,405.54 L470.85,406.75 L471.10,405.43 L471.35,402.95 L471.60,404.49 L471.85,406.90 L472.10,405.01 L472.35,406.57 L472.60,405.44 L472.85,406.75 L473.10,405.03 L473.35,406.75 L473.60,405.73 L473.85,404.19 L474.10,404.98 L474.35,406.84 L474.60,405.66 L474.85,402.12 L475.10,404.55 L475.35,406.43 L475.60,404.58 L475.85,406.64 L476.10,405.47 L476.35,406.51 L476.60,405.38 L476.85,401.68 L477.10,404.54 L477.35,406.46 L477.60,405.17 L477.85,406.72 L478.10,405.57 L478.35,406.74 L478.60,404.95 L478.85,406.61 L479.10,404.96 L479.35,406.87 L479.60,404.41 L479.85,406.69 L480.10,405.08 L480.35,406.89 L480.60,405.04 L480.85,402.58 L481.10,404.56 L481.35,406.60 L481.60,405.09 L481.85,406.24 L482.10,402.56 L482.35,406.21 L482.60,404.16 L482.85,406.66 L483.10,405.26 L483.35,406.44 L483.60,403.00 L483.85,406.34 L484.10,405.05 L484.35,406.40 L484.60,404.96 L484.85,406.52 L485.10,404.56 L485.35,403.58 L485.60,405.58 L485.85,407.09 L486.10,404.06 L486.35,406.80 L486.60,404.48 L486.85,406.86 L487.10,404.85 L487.35,406.85 L487.60,404.70 L487.85,406.66 L488.10,404.79 L488.35,406.58 L488.60,404.68 L488.85,406.50 L489.10,403.11 L489.35,406.51 L489.60,404.59 L489.85,406.55 L490.10,404.37 L490.35,406.56 L490.60,404.41 L490.85,406.78 L491.10,404.76 L491.35,406.77 L491.60,403.25 L491.85,406.61 L492.10,403.52 L492.35,406.50 L492.60,404.59 L492.85,406.54 L493.10,405.04 L493.35,406.63 L493.60,404.13 L493.85,406.46 L494.10,404.78 L494.35,406.42 L494.60,404.34 L494.85,405.65 L495.10,403.29 L495.35,405.38 L495.60,402.67 L495.85,405.08 L496.10,403.30 L496.35,404.56 L496.60,400.81 L496.85,403.59 L497.10,402.26 L497.35,403.41 L497.60,401.60 L497.85,403.52 L498.10,402.42 L498.35,404.00 L498.60,400.06 L498.85,404.86 L499.10,402.66 L499.35,405.42 L499.60,403.42 L499.85,405.62 L500.10,404.77 L500.35,406.07 L500.60,404.60 L500.85,406.12 L501.10,402.03 L501.35,405.98 L501.60,403.93 L501.85,406.09 L502.10,404.67 L502.35,406.23 L502.60,404.41 L502.85,406.14 L503.10,404.84 L503.35,406.26 L503.60,405.05 L503.85,406.03 L504.10,401.28 L504.35,406.24 L504.60,404.54 L504.85,402.45 L505.10,404.36 L505.35,405.90 L505.60,404.50 L505.85,406.00 L506.10,404.57 L506.35,406.00 L506.60,403.32 L506.85,405.83 L507.10,404.09 L507.35,406.15 L507.60,404.70 L507.85,406.03 L508.10,404.65 L508.35,406.13 L508.60,404.53 L508.85,406.11 L509.10,403.60 L509.35,406.03 L509.60,404.33 L509.85,406.17 L510.10,402.56 L510.35,406.00 L510.60,403.55 L510.85,406.14 L511.10,404.89 L511.35,406.06 L511.60,404.51 L511.85,406.06 L512.10,404.68 L512.35,406.00 L512.60,403.75 L512.85,406.09 L513.10,404.32 L513.35,406.15 L513.60,404.84 L513.85,402.87 L514.10,404.53 L514.35,406.14 L514.60,405.02 L514.85,406.32 L515.10,404.72 L515.35,406.09 L515.60,403.59 L515.85,406.24 L516.10,401.55 L516.35,406.12 L516.60,404.80 L516.85,406.23 L517.10,405.11 L517.35,406.29 L517.60,404.22 L517.85,406.05 L518.10,404.28 L518.35,405.98 L518.60,404.49 L518.85,406.23 L519.10,404.49 L519.35,405.85 L519.60,404.93 L519.85,406.30 L520.10,401.42 L520.35,406.09 L520.60,401.74 L520.85,406.10 L521.10,404.52 L521.35,406.03 L521.60,403.70 L521.85,405.98 L522.10,404.80 L522.35,402.15 L522.60,403.91 L522.85,402.63 L523.10,404.52 L523.35,406.10 L523.60,403.41 L523.85,402.21 L524.10,403.75 L524.35,402.98 L524.60,404.32 L524.85,405.60 L525.10,402.99 L525.35,405.25 L525.60,403.61 L525.85,405.01 L526.10,402.47 L526.35,404.77 L526.60,403.51 L526.85,404.69 L527.10,403.27 L527.35,404.90 L527.60,402.84 L527.85,405.07 L528.10,403.03 L528.35,405.15 L528.60,403.83 L528.85,405.24 L529.10,403.35 L529.35,400.22 L529.60,403.18 L529.85,405.42 L530.10,403.35 L530.35,405.35 L530.60,404.37 L530.85,405.45 L531.10,403.65 L531.35,402.69 L531.60,404.29 L531.85,405.68 L532.10,404.28 L532.35,402.83 L532.60,403.30 L532.85,405.70 L533.10,403.46 L533.35,405.84 L533.60,403.90 L533.85,405.73 L534.10,403.41 L534.35,405.73 L534.60,403.88 L534.85,405.76 L535.10,402.89 L535.35,405.88 L535.60,404.58 L535.85,406.03" stroke="#000" stroke-width="0.6" fill="none"/>
<line x1="56.70" y1="406.90" x2="56.70" y2="399.00" stroke="#000" stroke-width="0.85"/>
<path d="M55.80,406.40 L56.70,402.80 L57.60,406.40 Z" fill="#000"/>
<line x1="83.00" y1="406.90" x2="83.00" y2="403.00" stroke="#000" stroke-width="0.85"/>
<path d="M82.10,406.40 L83.00,404.06 L83.90,406.40 Z" fill="#000"/>
<line x1="91.50" y1="406.90" x2="91.50" y2="402.50" stroke="#000" stroke-width="0.85"/>
<path d="M90.60,406.40 L91.50,403.76 L92.40,406.40 Z" fill="#000"/>
<line x1="144.00" y1="406.90" x2="144.00" y2="400.90" stroke="#000" stroke-width="0.85"/>
<path d="M143.10,406.40 L144.00,402.80 L144.90,406.40 Z" fill="#000"/>
<line x1="151.70" y1="406.90" x2="151.70" y2="401.00" stroke="#000" stroke-width="0.85"/>
<path d="M150.80,406.40 L151.70,402.86 L152.60,406.40 Z" fill="#000"/>
<line x1="158.20" y1="406.90" x2="158.20" y2="402.00" stroke="#000" stroke-width="0.85"/>
<path d="M157.30,406.40 L158.20,403.46 L159.10,406.40 Z" fill="#000"/>
<line x1="161.50" y1="406.90" x2="161.50" y2="399.50" stroke="#000" stroke-width="0.85"/>
<path d="M160.60,406.40 L161.50,402.80 L162.40,406.40 Z" fill="#000"/>
<line x1="164.50" y1="406.90" x2="164.50" y2="399.00" stroke="#000" stroke-width="0.85"/>
<path d="M163.60,406.40 L164.50,402.80 L165.40,406.40 Z" fill="#000"/>
<line x1="173.50" y1="406.90" x2="173.50" y2="316.50" stroke="#000" stroke-width="0.75"/>
<path d="M172.55,406.90 L173.05,385.00 L173.95,385.00 L174.45,406.90 Z" fill="#111"/>
<line x1="183.10" y1="406.90" x2="183.10" y2="396.70" stroke="#000" stroke-width="0.85"/>
<path d="M182.20,406.40 L183.10,402.80 L184.00,406.40 Z" fill="#000"/>
<line x1="194.50" y1="406.90" x2="194.50" y2="403.00" stroke="#000" stroke-width="0.85"/>
<path d="M193.60,406.40 L194.50,404.06 L195.40,406.40 Z" fill="#000"/>
<line x1="236.60" y1="406.90" x2="236.60" y2="398.50" stroke="#000" stroke-width="0.85"/>
<path d="M235.70,406.40 L236.60,402.80 L237.50,406.40 Z" fill="#000"/>
<line x1="253.30" y1="406.90" x2="253.30" y2="403.00" stroke="#000" stroke-width="0.85"/>
<path d="M252.40,406.40 L253.30,404.06 L254.20,406.40 Z" fill="#000"/>
<line x1="276.00" y1="406.90" x2="276.00" y2="403.00" stroke="#000" stroke-width="0.85"/>
<path d="M275.10,406.40 L276.00,404.06 L276.90,406.40 Z" fill="#000"/>
<line x1="296.00" y1="406.90" x2="296.00" y2="398.20" stroke="#000" stroke-width="0.85"/>
<path d="M295.10,406.40 L296.00,402.80 L296.90,406.40 Z" fill="#000"/>
<line x1="300.50" y1="406.90" x2="300.50" y2="402.00" stroke="#000" stroke-width="0.85"/>
<path d="M299.60,406.40 L300.50,403.46 L301.40,406.40 Z" fill="#000"/>
<line x1="328.70" y1="406.90" x2="328.70" y2="402.00" stroke="#000" stroke-width="0.85"/>
<path d="M327.80,406.40 L328.70,403.46 L329.60,406.40 Z" fill="#000"/>
<line x1="364.60" y1="406.90" x2="364.60" y2="380.00" stroke="#000" stroke-width="0.7"/>
<path d="M363.85,406.90 L364.15,396.00 L365.05,396.00 L365.35,406.90 Z" fill="#111"/>
<line x1="374.20" y1="406.90" x2="374.20" y2="397.30" stroke="#000" stroke-width="0.85"/>
<path d="M373.30,406.40 L374.20,402.80 L375.10,406.40 Z" fill="#000"/>
<line x1="377.50" y1="406.90" x2="377.50" y2="397.00" stroke="#000" stroke-width="0.85"/>
<path d="M376.60,406.40 L377.50,402.80 L378.40,406.40 Z" fill="#000"/>
<line x1="391.50" y1="406.90" x2="391.50" y2="403.00" stroke="#000" stroke-width="0.85"/>
<path d="M390.60,406.40 L391.50,404.06 L392.40,406.40 Z" fill="#000"/>
<line x1="406.00" y1="406.90" x2="406.00" y2="400.00" stroke="#000" stroke-width="0.85"/>
<path d="M405.10,406.40 L406.00,402.80 L406.90,406.40 Z" fill="#000"/>
<line x1="408.70" y1="406.90" x2="408.70" y2="398.50" stroke="#000" stroke-width="0.85"/>
<path d="M407.80,406.40 L408.70,402.80 L409.60,406.40 Z" fill="#000"/>
<line x1="412.40" y1="406.90" x2="412.40" y2="397.00" stroke="#000" stroke-width="0.85"/>
<path d="M411.50,406.40 L412.40,402.80 L413.30,406.40 Z" fill="#000"/>
<line x1="415.30" y1="406.90" x2="415.30" y2="300.50" stroke="#000" stroke-width="0.75"/>
<path d="M414.50,406.90 L414.85,362.00 L415.75,362.00 L416.10,406.90 Z" fill="#111"/>
<line x1="460.00" y1="406.90" x2="460.00" y2="401.00" stroke="#000" stroke-width="0.85"/>
<path d="M459.10,406.40 L460.00,402.86 L460.90,406.40 Z" fill="#000"/>
<line x1="489.00" y1="406.90" x2="489.00" y2="399.00" stroke="#000" stroke-width="0.85"/>
<path d="M488.10,406.40 L489.00,402.80 L489.90,406.40 Z" fill="#000"/>
<line x1="495.60" y1="406.90" x2="495.60" y2="389.30" stroke="#000" stroke-width="0.75"/>
<path d="M494.70,406.40 L495.60,402.80 L496.50,406.40 Z" fill="#000"/>
<line x1="498.30" y1="406.90" x2="498.30" y2="389.30" stroke="#000" stroke-width="0.75"/>
<path d="M497.40,406.40 L498.30,402.80 L499.20,406.40 Z" fill="#000"/>
<line x1="499.40" y1="406.90" x2="499.40" y2="396.00" stroke="#000" stroke-width="0.6"/>
<path d="M498.50,406.40 L499.40,402.80 L500.30,406.40 Z" fill="#000"/>
<line x1="523.00" y1="406.90" x2="523.00" y2="398.00" stroke="#000" stroke-width="0.85"/>
<path d="M522.10,406.40 L523.00,402.80 L523.90,406.40 Z" fill="#000"/>
<line x1="526.00" y1="406.90" x2="526.00" y2="400.00" stroke="#000" stroke-width="0.85"/>
<path d="M525.10,406.40 L526.00,402.80 L526.90,406.40 Z" fill="#000"/>
<line x1="533.00" y1="406.90" x2="533.00" y2="398.00" stroke="#000" stroke-width="0.85"/>
<path d="M532.10,406.40 L533.00,402.80 L533.90,406.40 Z" fill="#000"/>
<polygon points="413.20,406.90 414.60,395.00 415.00,375.00 415.60,375.00 416.00,395.00 417.60,406.90" fill="#000"/>
<polygon points="494.60,406.90 495.60,400.00 497.00,402.50 498.30,400.00 499.90,406.90" fill="#000"/>
<text x="56.60" y="397.50" font-size="7.3" font-weight="normal" fill="#aa3039" text-anchor="start" stroke="#aa3039" stroke-width="0.12">420.1</text>
<text x="173.80" y="314.10" font-size="7.3" font-weight="normal" fill="#aa3039" text-anchor="start" stroke="#aa3039" stroke-width="0.12">646.2</text>
<text x="182.80" y="396.00" font-size="7.3" font-weight="normal" fill="#aa3039" text-anchor="start" stroke="#aa3039" stroke-width="0.12">664.3</text>
<text x="237.20" y="397.20" font-size="7.3" font-weight="normal" fill="#aa3039" text-anchor="start" stroke="#aa3039" stroke-width="0.12">766.3</text>
<text x="295.50" y="397.40" font-size="7.3" font-weight="normal" fill="#aa3039" text-anchor="start" stroke="#aa3039" stroke-width="0.12">887.4</text>
<text x="328.20" y="401.80" font-size="7.3" font-weight="normal" fill="#aa3039" text-anchor="start" stroke="#aa3039" stroke-width="0.12">946.4</text>
<text x="364.80" y="378.60" font-size="7.3" font-weight="normal" fill="#aa3039" text-anchor="start" stroke="#aa3039" stroke-width="0.12">1015.5</text>
<text x="415.20" y="298.50" font-size="7.3" font-weight="normal" fill="#aa3039" text-anchor="start" stroke="#aa3039" stroke-width="0.12">1113.5</text>
<text x="497.70" y="387.60" font-size="7.3" font-weight="normal" fill="#aa3039" text-anchor="start" stroke="#aa3039" stroke-width="0.12">1273.7</text>
<text x="57.80" y="370.00" font-size="7.3" font-weight="bold" fill="#000" stroke="#000" stroke-width="0.12"><tspan font-size="4.6" dy="-2.60">0,4</tspan><tspan dy="2.60">A</tspan><tspan font-size="5.0" dy="1.60">2</tspan><tspan dy="-1.60"> <tspan stroke-width="0.35">-</tspan> C</tspan><tspan font-size="5.0" dy="1.60">15</tspan><tspan dy="-1.60">H</tspan><tspan font-size="5.0" dy="1.60">30</tspan><tspan dy="-1.60">O</tspan></text>
<line x1="78.8" y1="373.2" x2="71.5" y2="382.6" stroke="#4f7fd6" stroke-width="0.6"/>
<polygon points="69.4,385.2 70.2,380.9 73.0,383.1" fill="#4f7fd6"/>
<text x="173.60" y="303.00" font-size="7.3" font-weight="bold" fill="#000" stroke="#000" stroke-width="0.12"><tspan font-size="4.6" dy="-2.60">0,4</tspan><tspan dy="2.60">A</tspan><tspan font-size="5.0" dy="1.60">2</tspan></text>
<text x="241.40" y="388.10" font-size="7.3" font-weight="bold" fill="#000" stroke="#000" stroke-width="0.12">Y<tspan font-size="5.0" dy="1.60">1</tspan></text>
<text x="287.80" y="374.30" font-size="7.3" font-weight="bold" fill="#000" text-anchor="start" stroke="#000" stroke-width="0.12"><tspan stroke-width="0.35">-</tspan> 15:0(OH)</text>
<text x="287.80" y="383.60" font-size="7.3" font-weight="bold" fill="#000" stroke="#000" stroke-width="0.12"><tspan stroke-width="0.35">-</tspan> C<tspan font-size="5.0" dy="1.60">15</tspan><tspan dy="-1.60">H</tspan><tspan font-size="5.0" dy="1.60">30</tspan><tspan dy="-1.60">O</tspan></text>
<text x="359.10" y="358.50" font-size="7.3" font-weight="bold" fill="#000" text-anchor="start" stroke="#000" stroke-width="0.12"><tspan stroke-width="0.35">-</tspan> 15:0(OH)</text>
<text x="359.10" y="367.50" font-size="7.3" font-weight="bold" fill="#000" stroke="#000" stroke-width="0.12"><tspan stroke-width="0.35">-</tspan> H<tspan font-size="5.0" dy="1.60">3</tspan><tspan dy="-1.60">PO</tspan><tspan font-size="5.0" dy="1.60">4</tspan></text>
<text x="414.80" y="286.30" font-size="7.3" font-weight="bold" fill="#000" text-anchor="start" stroke="#000" stroke-width="0.12"><tspan stroke-width="0.35">-</tspan> 15:0(OH)</text>
<text x="495.80" y="375.40" font-size="7.3" font-weight="bold" fill="#000" stroke="#000" stroke-width="0.12"><tspan stroke-width="0.35">-</tspan> H<tspan font-size="5.0" dy="1.60">3</tspan><tspan dy="-1.60">PO</tspan><tspan font-size="5.0" dy="1.60">4</tspan></text>
<rect x="219.0" y="7.3" width="130.4" height="135.3" fill="none" stroke="#4a4a4a" stroke-width="1"/>
<rect x="217.5" y="221.7" width="133.0" height="134.8" fill="none" stroke="#4a4a4a" stroke-width="1"/>
<text x="263" y="14.8" font-size="7.3" font-weight="bold" stroke="#000" stroke-width="0.15" textLength="83.8" lengthAdjust="spacingAndGlyphs">Precursor ion <tspan font-style="italic">m/z</tspan> 1527.7</text>
<text x="262.6" y="230.2" font-size="7.3" font-weight="bold" stroke="#000" stroke-width="0.15" textLength="84.2" lengthAdjust="spacingAndGlyphs">Precursor ion <tspan font-style="italic">m/z</tspan> 1371.6</text>
<line x1="240.00" y1="21.00" x2="247.90" y2="22.80" stroke="#3a3a3a" stroke-width="0.5"/>
<line x1="247.90" y1="22.80" x2="254.00" y2="21.60" stroke="#3a3a3a" stroke-width="0.5"/>
<line x1="256.40" y1="22.40" x2="259.50" y2="28.00" stroke="#3a3a3a" stroke-width="0.5"/>
<line x1="242.40" y1="27.40" x2="240.00" y2="21.00" stroke="#3a3a3a" stroke-width="0.5"/>
<line x1="242.40" y1="27.40" x2="252.50" y2="26.00" stroke="#111" stroke-width="1.0"/>
<line x1="252.50" y1="26.00" x2="259.50" y2="28.00" stroke="#111" stroke-width="1.0"/>
<line x1="241.44" y1="24.84" x2="242.40" y2="27.40" stroke="#111" stroke-width="0.9"/>
<text x="255.30" y="23.02" font-size="4.5" font-weight="normal" fill="#222" text-anchor="middle">O</text>
<text x="237.80" y="15.92" font-size="4.5" font-weight="normal" fill="#222" text-anchor="middle">HO</text>
<line x1="240.00" y1="21.00" x2="239.30" y2="16.00" stroke="#3a3a3a" stroke-width="0.5"/>
<text x="235.80" y="28.22" font-size="4.5" font-weight="normal" fill="#222" text-anchor="middle">HO</text>
<line x1="242.40" y1="27.40" x2="239.00" y2="26.70" stroke="#3a3a3a" stroke-width="0.5"/>
<line x1="247.90" y1="22.80" x2="247.90" y2="17.70" stroke="#3a3a3a" stroke-width="0.5"/>
<text x="245.00" y="14.22" font-size="4.5" font-weight="normal" fill="#222" text-anchor="middle">O</text>
<text x="243.20" y="11.00" font-size="3.2" fill="#222">-</text>
<line x1="247.90" y1="17.70" x2="245.80" y2="13.90" stroke="#3a3a3a" stroke-width="0.5"/>
<text x="253.20" y="16.32" font-size="4.5" font-weight="normal" fill="#222" text-anchor="middle">O</text>
<line x1="248.07" y1="18.00" x2="252.07" y2="15.70" stroke="#3a3a3a" stroke-width="0.5"/>
<line x1="247.73" y1="17.40" x2="251.73" y2="15.10" stroke="#3a3a3a" stroke-width="0.5"/>
<text x="255.60" y="33.22" font-size="4.5" font-weight="normal" fill="#222" text-anchor="middle">OH</text>
<line x1="252.50" y1="26.00" x2="253.60" y2="30.00" stroke="#3a3a3a" stroke-width="0.5"/>
<text x="260.10" y="39.22" font-size="4.5" font-weight="normal" fill="#222" text-anchor="middle">O</text>
<line x1="259.50" y1="28.00" x2="260.00" y2="36.10" stroke="#3a3a3a" stroke-width="0.5"/>
<line x1="261.60" y1="37.30" x2="268.20" y2="35.30" stroke="#3a3a3a" stroke-width="0.5"/>
<line x1="268.20" y1="35.30" x2="276.00" y2="36.80" stroke="#3a3a3a" stroke-width="0.5"/>
<line x1="276.00" y1="36.80" x2="283.10" y2="35.00" stroke="#3a3a3a" stroke-width="0.5"/>
<line x1="285.50" y1="35.80" x2="288.60" y2="42.20" stroke="#3a3a3a" stroke-width="0.5"/>
<line x1="272.40" y1="41.80" x2="268.20" y2="35.30" stroke="#3a3a3a" stroke-width="0.5"/>
<line x1="272.40" y1="41.80" x2="280.20" y2="39.90" stroke="#111" stroke-width="1.0"/>
<line x1="280.20" y1="39.90" x2="288.60" y2="42.20" stroke="#111" stroke-width="1.0"/>
<line x1="270.72" y1="39.20" x2="272.40" y2="41.80" stroke="#111" stroke-width="0.9"/>
<text x="284.40" y="36.42" font-size="4.5" font-weight="normal" fill="#222" text-anchor="middle">O</text>
<line x1="276.00" y1="36.80" x2="276.00" y2="29.50" stroke="#3a3a3a" stroke-width="0.5"/>
<line x1="276.00" y1="29.50" x2="279.60" y2="28.30" stroke="#3a3a3a" stroke-width="0.5"/>
<text x="282.80" y="29.92" font-size="4.5" font-weight="normal" fill="#222" text-anchor="middle">OH</text>
<text x="282.30" y="46.82" font-size="4.5" font-weight="normal" fill="#222" text-anchor="middle">NH</text>
<line x1="280.20" y1="39.90" x2="281.30" y2="43.80" stroke="#3a3a3a" stroke-width="0.5"/>
<text x="297.50" y="35.22" font-size="4.5" font-weight="normal" fill="#222" text-anchor="middle">O</text>
<line x1="288.60" y1="42.20" x2="296.20" y2="34.60" stroke="#3a3a3a" stroke-width="0.5"/>
<line x1="298.90" y1="33.40" x2="310.60" y2="31.90" stroke="#3a3a3a" stroke-width="0.5"/>
<line x1="310.60" y1="31.90" x2="314.30" y2="36.40" stroke="#3a3a3a" stroke-width="0.5"/>
<line x1="308.70" y1="35.80" x2="314.30" y2="36.40" stroke="#3a3a3a" stroke-width="0.5"/>
<line x1="314.30" y1="36.40" x2="323.00" y2="35.70" stroke="#3a3a3a" stroke-width="0.5"/>
<line x1="325.40" y1="36.50" x2="327.80" y2="40.80" stroke="#3a3a3a" stroke-width="0.5"/>
<line x1="311.60" y1="41.80" x2="308.70" y2="35.80" stroke="#3a3a3a" stroke-width="0.5"/>
<line x1="311.60" y1="41.80" x2="320.70" y2="40.30" stroke="#111" stroke-width="1.0"/>
<line x1="320.70" y1="40.30" x2="327.80" y2="40.80" stroke="#111" stroke-width="1.0"/>
<line x1="310.44" y1="39.40" x2="311.60" y2="41.80" stroke="#111" stroke-width="0.9"/>
<text x="324.30" y="37.12" font-size="4.5" font-weight="normal" fill="#222" text-anchor="middle">O</text>
<text x="301.10" y="40.32" font-size="4.5" font-weight="normal" fill="#222" text-anchor="middle">HO</text>
<line x1="308.70" y1="35.80" x2="303.90" y2="38.20" stroke="#3a3a3a" stroke-width="0.5"/>
<text x="301.90" y="43.52" font-size="4.5" font-weight="normal" fill="#222" text-anchor="middle">O</text>
<line x1="311.60" y1="41.80" x2="303.40" y2="41.90" stroke="#3a3a3a" stroke-width="0.5"/>
<text x="322.40" y="47.42" font-size="4.5" font-weight="normal" fill="#222" text-anchor="middle">NH</text>
<line x1="320.70" y1="40.30" x2="321.60" y2="44.30" stroke="#3a3a3a" stroke-width="0.5"/>
<text x="328.60" y="51.72" font-size="4.5" font-weight="normal" fill="#222" text-anchor="middle">O</text>
<line x1="327.80" y1="40.80" x2="328.40" y2="48.40" stroke="#3a3a3a" stroke-width="0.5"/>
<line x1="330.10" y1="50.10" x2="334.30" y2="50.10" stroke="#3a3a3a" stroke-width="0.5"/>
<text x="335.80" y="51.72" font-size="4.5" font-weight="normal" fill="#222" text-anchor="middle">P</text>
<text x="337.30" y="44.12" font-size="4.5" font-weight="normal" fill="#222" text-anchor="middle">OH</text>
<line x1="336.10" y1="48.40" x2="336.80" y2="44.20" stroke="#3a3a3a" stroke-width="0.5"/>
<text x="343.10" y="48.52" font-size="4.5" font-weight="normal" fill="#222" text-anchor="middle">O</text>
<text x="344.60" y="45.20" font-size="3.2" fill="#222">-</text>
<line x1="337.30" y1="49.40" x2="341.60" y2="47.60" stroke="#3a3a3a" stroke-width="0.5"/>
<text x="339.30" y="59.12" font-size="4.5" font-weight="normal" fill="#222" text-anchor="middle">O</text>
<line x1="335.99" y1="51.97" x2="338.19" y2="56.07" stroke="#3a3a3a" stroke-width="0.5"/>
<line x1="336.61" y1="51.63" x2="338.81" y2="55.73" stroke="#3a3a3a" stroke-width="0.5"/>
<text x="261.60" y="43.42" font-size="4.5" font-weight="normal" fill="#222" text-anchor="middle">O</text>
<line x1="272.40" y1="41.80" x2="263.10" y2="41.80" stroke="#3a3a3a" stroke-width="0.5"/>
<line x1="260.60" y1="43.20" x2="257.50" y2="47.60" stroke="#3a3a3a" stroke-width="0.5"/>
<text x="251.80" y="49.52" font-size="4.5" font-weight="normal" fill="#222" text-anchor="middle">O</text>
<line x1="253.22" y1="48.25" x2="257.52" y2="47.95" stroke="#3a3a3a" stroke-width="0.5"/>
<line x1="253.18" y1="47.55" x2="257.48" y2="47.25" stroke="#3a3a3a" stroke-width="0.5"/>
<polyline points="257.50,47.60 260.50,52.90 257.50,58.20 260.50,63.50 257.50,68.80 260.50,74.10 257.50,79.40" stroke="#3a3a3a" stroke-width="0.5" fill="none" stroke-linejoin="round"/>
<line x1="257.50" y1="79.40" x2="251.20" y2="79.40" stroke="#3a3a3a" stroke-width="0.5"/>
<line x1="257.50" y1="79.40" x2="260.40" y2="85.40" stroke="#3a3a3a" stroke-width="0.5"/>
<text x="250.20" y="60.22" font-size="4.5" font-weight="normal" fill="#222" text-anchor="middle">HO</text>
<polygon points="257.50,58.20 252.57,57.95 252.63,59.05" fill="#111"/>
<text x="251.60" y="93.00" font-size="6.2" font-weight="bold" fill="#111">9</text>
<line x1="280.90" y1="46.70" x2="277.60" y2="52.00" stroke="#3a3a3a" stroke-width="0.5"/>
<text x="271.30" y="54.42" font-size="4.5" font-weight="normal" fill="#222" text-anchor="middle">O</text>
<line x1="272.76" y1="53.15" x2="277.66" y2="52.35" stroke="#3a3a3a" stroke-width="0.5"/>
<line x1="272.64" y1="52.45" x2="277.54" y2="51.65" stroke="#3a3a3a" stroke-width="0.5"/>
<polyline points="277.60,52.00 280.90,57.49 277.60,62.97 280.90,68.46 277.60,73.94 280.90,79.43 277.60,84.91 280.90,90.40 277.60,95.89 280.90,101.37 277.60,106.86 280.90,112.34 277.60,117.83 280.90,123.31 277.60,128.80" stroke="#3a3a3a" stroke-width="0.5" fill="none" stroke-linejoin="round"/>
<line x1="277.60" y1="128.80" x2="271.50" y2="128.80" stroke="#3a3a3a" stroke-width="0.5"/>
<line x1="277.60" y1="128.80" x2="280.40" y2="135.40" stroke="#3a3a3a" stroke-width="0.5"/>
<text x="268.90" y="64.99" font-size="4.5" font-weight="normal" fill="#222" text-anchor="middle">HO</text>
<polygon points="277.60,62.97 271.27,62.72 271.33,63.82" fill="#111"/>
<text x="271.20" y="140.60" font-size="6.2" font-weight="bold" fill="#111">17</text>
<line x1="301.00" y1="43.40" x2="298.40" y2="47.60" stroke="#3a3a3a" stroke-width="0.5"/>
<text x="292.40" y="49.52" font-size="4.5" font-weight="normal" fill="#222" text-anchor="middle">O</text>
<line x1="293.82" y1="48.25" x2="298.42" y2="47.95" stroke="#3a3a3a" stroke-width="0.5"/>
<line x1="293.78" y1="47.55" x2="298.38" y2="47.25" stroke="#3a3a3a" stroke-width="0.5"/>
<polyline points="298.40,47.60 301.60,53.05 298.40,58.50 301.60,63.95 298.40,69.40 301.60,74.85 298.40,80.30 301.60,85.75 298.40,91.20 301.60,96.65 298.40,102.10 301.60,107.55 298.40,113.00" stroke="#3a3a3a" stroke-width="0.5" fill="none" stroke-linejoin="round"/>
<line x1="298.40" y1="113.00" x2="291.40" y2="113.00" stroke="#3a3a3a" stroke-width="0.5"/>
<line x1="298.40" y1="113.00" x2="301.60" y2="120.00" stroke="#3a3a3a" stroke-width="0.5"/>
<text x="291.30" y="60.52" font-size="4.5" font-weight="normal" fill="#222" text-anchor="middle">HO</text>
<polygon points="298.40,58.50 293.66,58.25 293.74,59.35" fill="#111"/>
<text x="291.90" y="126.60" font-size="6.2" font-weight="bold" fill="#111">15</text>
<line x1="321.00" y1="47.20" x2="316.90" y2="51.50" stroke="#3a3a3a" stroke-width="0.5"/>
<text x="309.80" y="53.42" font-size="4.5" font-weight="normal" fill="#222" text-anchor="middle">O</text>
<line x1="311.22" y1="52.15" x2="316.92" y2="51.85" stroke="#3a3a3a" stroke-width="0.5"/>
<line x1="311.18" y1="51.45" x2="316.88" y2="51.15" stroke="#3a3a3a" stroke-width="0.5"/>
<polyline points="316.90,51.50 320.10,56.99 316.90,62.49 320.10,67.98 316.90,73.47 320.10,78.96 316.90,84.46 320.10,89.95 316.90,95.44 320.10,100.94 316.90,106.43 320.10,111.92 316.90,117.41 320.10,122.91 316.90,128.40" stroke="#3a3a3a" stroke-width="0.5" fill="none" stroke-linejoin="round"/>
<line x1="316.90" y1="128.40" x2="309.90" y2="128.40" stroke="#3a3a3a" stroke-width="0.5"/>
<line x1="316.90" y1="128.40" x2="319.00" y2="134.30" stroke="#3a3a3a" stroke-width="0.5"/>
<text x="307.70" y="64.51" font-size="4.5" font-weight="normal" fill="#222" text-anchor="middle">HO</text>
<polygon points="316.90,62.49 310.08,62.24 310.12,63.34" fill="#111"/>
<text x="309.60" y="140.60" font-size="6.2" font-weight="bold" fill="#111">17</text>
<polyline points="292.30,44.30 292.30,29.40 300.60,25.60" stroke="#f01e23" stroke-width="0.9" fill="none" stroke-linejoin="round"/>
<text x="301.60" y="25.80" font-size="6.6" font-weight="bold" fill="#f01e23">Y<tspan font-size="4.4" dy="1.4">1</tspan></text>
<polyline points="310.40,35.10 312.60,38.90 327.00,37.30" stroke="#f01e23" stroke-width="0.9" fill="none" stroke-linejoin="round"/>
<text x="326.60" y="37.40" font-size="6.6" font-weight="bold" fill="#f01e23"><tspan font-size="3.8" dy="-2.2">0,4</tspan><tspan dy="2.2">A</tspan><tspan font-size="4.4" dy="1.4">2</tspan></text>
<line x1="232.50" y1="236.50" x2="240.40" y2="238.30" stroke="#3a3a3a" stroke-width="0.5"/>
<line x1="240.40" y1="238.30" x2="246.50" y2="237.10" stroke="#3a3a3a" stroke-width="0.5"/>
<line x1="248.90" y1="237.90" x2="252.00" y2="243.50" stroke="#3a3a3a" stroke-width="0.5"/>
<line x1="234.90" y1="242.90" x2="232.50" y2="236.50" stroke="#3a3a3a" stroke-width="0.5"/>
<line x1="234.90" y1="242.90" x2="245.00" y2="241.50" stroke="#111" stroke-width="1.0"/>
<line x1="245.00" y1="241.50" x2="252.00" y2="243.50" stroke="#111" stroke-width="1.0"/>
<line x1="233.94" y1="240.34" x2="234.90" y2="242.90" stroke="#111" stroke-width="0.9"/>
<text x="247.80" y="238.52" font-size="4.5" font-weight="normal" fill="#222" text-anchor="middle">O</text>
<text x="230.30" y="231.42" font-size="4.5" font-weight="normal" fill="#222" text-anchor="middle">HO</text>
<line x1="232.50" y1="236.50" x2="231.80" y2="231.50" stroke="#3a3a3a" stroke-width="0.5"/>
<text x="228.30" y="243.72" font-size="4.5" font-weight="normal" fill="#222" text-anchor="middle">HO</text>
<line x1="234.90" y1="242.90" x2="231.50" y2="242.20" stroke="#3a3a3a" stroke-width="0.5"/>
<line x1="240.40" y1="238.30" x2="240.40" y2="233.20" stroke="#3a3a3a" stroke-width="0.5"/>
<text x="237.50" y="229.72" font-size="4.5" font-weight="normal" fill="#222" text-anchor="middle">O</text>
<text x="235.70" y="226.50" font-size="3.2" fill="#222">-</text>
<line x1="240.40" y1="233.20" x2="238.30" y2="229.40" stroke="#3a3a3a" stroke-width="0.5"/>
<text x="245.70" y="231.82" font-size="4.5" font-weight="normal" fill="#222" text-anchor="middle">O</text>
<line x1="240.57" y1="233.50" x2="244.57" y2="231.20" stroke="#3a3a3a" stroke-width="0.5"/>
<line x1="240.23" y1="232.90" x2="244.23" y2="230.60" stroke="#3a3a3a" stroke-width="0.5"/>
<text x="248.10" y="248.72" font-size="4.5" font-weight="normal" fill="#222" text-anchor="middle">OH</text>
<line x1="245.00" y1="241.50" x2="246.10" y2="245.50" stroke="#3a3a3a" stroke-width="0.5"/>
<text x="252.60" y="254.72" font-size="4.5" font-weight="normal" fill="#222" text-anchor="middle">O</text>
<line x1="252.00" y1="243.50" x2="252.50" y2="251.60" stroke="#3a3a3a" stroke-width="0.5"/>
<line x1="254.10" y1="252.80" x2="260.70" y2="250.80" stroke="#3a3a3a" stroke-width="0.5"/>
<line x1="260.70" y1="250.80" x2="268.50" y2="252.30" stroke="#3a3a3a" stroke-width="0.5"/>
<line x1="268.50" y1="252.30" x2="275.60" y2="250.50" stroke="#3a3a3a" stroke-width="0.5"/>
<line x1="278.00" y1="251.30" x2="281.10" y2="257.70" stroke="#3a3a3a" stroke-width="0.5"/>
<line x1="264.90" y1="257.30" x2="260.70" y2="250.80" stroke="#3a3a3a" stroke-width="0.5"/>
<line x1="264.90" y1="257.30" x2="272.70" y2="255.40" stroke="#111" stroke-width="1.0"/>
<line x1="272.70" y1="255.40" x2="281.10" y2="257.70" stroke="#111" stroke-width="1.0"/>
<line x1="263.22" y1="254.70" x2="264.90" y2="257.30" stroke="#111" stroke-width="0.9"/>
<text x="276.90" y="251.92" font-size="4.5" font-weight="normal" fill="#222" text-anchor="middle">O</text>
<line x1="268.50" y1="252.30" x2="268.50" y2="245.00" stroke="#3a3a3a" stroke-width="0.5"/>
<line x1="268.50" y1="245.00" x2="272.10" y2="243.80" stroke="#3a3a3a" stroke-width="0.5"/>
<text x="275.30" y="245.42" font-size="4.5" font-weight="normal" fill="#222" text-anchor="middle">OH</text>
<text x="274.80" y="262.32" font-size="4.5" font-weight="normal" fill="#222" text-anchor="middle">NH</text>
<line x1="272.70" y1="255.40" x2="273.80" y2="259.30" stroke="#3a3a3a" stroke-width="0.5"/>
<text x="290.00" y="250.72" font-size="4.5" font-weight="normal" fill="#222" text-anchor="middle">O</text>
<line x1="281.10" y1="257.70" x2="288.70" y2="250.10" stroke="#3a3a3a" stroke-width="0.5"/>
<line x1="291.40" y1="248.90" x2="303.10" y2="247.40" stroke="#3a3a3a" stroke-width="0.5"/>
<line x1="303.10" y1="247.40" x2="306.80" y2="251.90" stroke="#3a3a3a" stroke-width="0.5"/>
<line x1="301.20" y1="251.30" x2="306.80" y2="251.90" stroke="#3a3a3a" stroke-width="0.5"/>
<line x1="306.80" y1="251.90" x2="315.50" y2="251.20" stroke="#3a3a3a" stroke-width="0.5"/>
<line x1="317.90" y1="252.00" x2="320.30" y2="256.30" stroke="#3a3a3a" stroke-width="0.5"/>
<line x1="304.10" y1="257.30" x2="301.20" y2="251.30" stroke="#3a3a3a" stroke-width="0.5"/>
<line x1="304.10" y1="257.30" x2="313.20" y2="255.80" stroke="#111" stroke-width="1.0"/>
<line x1="313.20" y1="255.80" x2="320.30" y2="256.30" stroke="#111" stroke-width="1.0"/>
<line x1="302.94" y1="254.90" x2="304.10" y2="257.30" stroke="#111" stroke-width="0.9"/>
<text x="316.80" y="252.62" font-size="4.5" font-weight="normal" fill="#222" text-anchor="middle">O</text>
<text x="293.60" y="255.82" font-size="4.5" font-weight="normal" fill="#222" text-anchor="middle">HO</text>
<line x1="301.20" y1="251.30" x2="296.40" y2="253.70" stroke="#3a3a3a" stroke-width="0.5"/>
<text x="294.40" y="259.02" font-size="4.5" font-weight="normal" fill="#222" text-anchor="middle">O</text>
<line x1="304.10" y1="257.30" x2="295.90" y2="257.40" stroke="#3a3a3a" stroke-width="0.5"/>
<text x="314.90" y="262.92" font-size="4.5" font-weight="normal" fill="#222" text-anchor="middle">NH</text>
<line x1="313.20" y1="255.80" x2="314.10" y2="259.80" stroke="#3a3a3a" stroke-width="0.5"/>
<text x="321.10" y="267.22" font-size="4.5" font-weight="normal" fill="#222" text-anchor="middle">O</text>
<line x1="320.30" y1="256.30" x2="320.90" y2="263.90" stroke="#3a3a3a" stroke-width="0.5"/>
<line x1="322.60" y1="265.60" x2="326.80" y2="265.60" stroke="#3a3a3a" stroke-width="0.5"/>
<text x="328.30" y="267.22" font-size="4.5" font-weight="normal" fill="#222" text-anchor="middle">P</text>
<text x="329.80" y="259.62" font-size="4.5" font-weight="normal" fill="#222" text-anchor="middle">OH</text>
<line x1="328.60" y1="263.90" x2="329.30" y2="259.70" stroke="#3a3a3a" stroke-width="0.5"/>
<text x="335.60" y="264.02" font-size="4.5" font-weight="normal" fill="#222" text-anchor="middle">O</text>
<text x="337.10" y="260.70" font-size="3.2" fill="#222">-</text>
<line x1="329.80" y1="264.90" x2="334.10" y2="263.10" stroke="#3a3a3a" stroke-width="0.5"/>
<text x="331.80" y="274.62" font-size="4.5" font-weight="normal" fill="#222" text-anchor="middle">O</text>
<line x1="328.49" y1="267.47" x2="330.69" y2="271.57" stroke="#3a3a3a" stroke-width="0.5"/>
<line x1="329.11" y1="267.13" x2="331.31" y2="271.23" stroke="#3a3a3a" stroke-width="0.5"/>
<text x="252.00" y="258.62" font-size="4.5" font-weight="normal" fill="#222" text-anchor="middle">HO</text>
<line x1="264.90" y1="257.30" x2="254.70" y2="257.10" stroke="#3a3a3a" stroke-width="0.5"/>
<line x1="273.40" y1="262.20" x2="270.10" y2="267.50" stroke="#3a3a3a" stroke-width="0.5"/>
<text x="263.80" y="269.92" font-size="4.5" font-weight="normal" fill="#222" text-anchor="middle">O</text>
<line x1="265.26" y1="268.65" x2="270.16" y2="267.85" stroke="#3a3a3a" stroke-width="0.5"/>
<line x1="265.14" y1="267.95" x2="270.04" y2="267.15" stroke="#3a3a3a" stroke-width="0.5"/>
<polyline points="270.10,267.50 273.40,272.86 270.10,278.21 273.40,283.57 270.10,288.93 273.40,294.29 270.10,299.64 273.40,305.00 270.10,310.36 273.40,315.71 270.10,321.07 273.40,326.43 270.10,331.79 273.40,337.14 270.10,342.50" stroke="#3a3a3a" stroke-width="0.5" fill="none" stroke-linejoin="round"/>
<line x1="270.10" y1="342.50" x2="265.30" y2="342.50" stroke="#3a3a3a" stroke-width="0.5"/>
<line x1="270.10" y1="342.50" x2="272.90" y2="349.10" stroke="#3a3a3a" stroke-width="0.5"/>
<text x="261.00" y="280.23" font-size="4.5" font-weight="normal" fill="#222" text-anchor="middle">HO</text>
<polygon points="270.10,278.21 263.38,277.96 263.42,279.06" fill="#111"/>
<text x="263.40" y="352.00" font-size="6.2" font-weight="bold" fill="#111">17</text>
<line x1="293.50" y1="258.90" x2="290.90" y2="263.10" stroke="#3a3a3a" stroke-width="0.5"/>
<text x="284.90" y="265.02" font-size="4.5" font-weight="normal" fill="#222" text-anchor="middle">O</text>
<line x1="286.32" y1="263.75" x2="290.92" y2="263.45" stroke="#3a3a3a" stroke-width="0.5"/>
<line x1="286.28" y1="263.05" x2="290.88" y2="262.75" stroke="#3a3a3a" stroke-width="0.5"/>
<polyline points="290.90,263.10 294.10,268.45 290.90,273.80 294.10,279.15 290.90,284.50 294.10,289.85 290.90,295.20 294.10,300.55 290.90,305.90 294.10,311.25 290.90,316.60 294.10,321.95 290.90,327.30" stroke="#3a3a3a" stroke-width="0.5" fill="none" stroke-linejoin="round"/>
<line x1="290.90" y1="327.30" x2="283.90" y2="327.30" stroke="#3a3a3a" stroke-width="0.5"/>
<line x1="290.90" y1="327.30" x2="294.10" y2="334.30" stroke="#3a3a3a" stroke-width="0.5"/>
<text x="282.70" y="275.82" font-size="4.5" font-weight="normal" fill="#222" text-anchor="middle">HO</text>
<polygon points="290.90,273.80 285.07,273.55 285.13,274.65" fill="#111"/>
<text x="282.00" y="335.70" font-size="6.2" font-weight="bold" fill="#111">15</text>
<line x1="313.50" y1="262.70" x2="309.40" y2="267.00" stroke="#3a3a3a" stroke-width="0.5"/>
<text x="302.30" y="268.92" font-size="4.5" font-weight="normal" fill="#222" text-anchor="middle">O</text>
<line x1="303.72" y1="267.65" x2="309.42" y2="267.35" stroke="#3a3a3a" stroke-width="0.5"/>
<line x1="303.68" y1="266.95" x2="309.38" y2="266.65" stroke="#3a3a3a" stroke-width="0.5"/>
<polyline points="309.40,267.00 312.60,272.39 309.40,277.79 312.60,283.18 309.40,288.57 312.60,293.96 309.40,299.36 312.60,304.75 309.40,310.14 312.60,315.54 309.40,320.93 312.60,326.32 309.40,331.71 312.60,337.11 309.40,342.50" stroke="#3a3a3a" stroke-width="0.5" fill="none" stroke-linejoin="round"/>
<line x1="309.40" y1="342.50" x2="302.40" y2="342.50" stroke="#3a3a3a" stroke-width="0.5"/>
<line x1="309.40" y1="342.50" x2="311.50" y2="348.40" stroke="#3a3a3a" stroke-width="0.5"/>
<text x="301.80" y="279.81" font-size="4.5" font-weight="normal" fill="#222" text-anchor="middle">HO</text>
<polygon points="309.40,277.79 304.17,277.54 304.23,278.63" fill="#111"/>
<text x="298.70" y="351.40" font-size="6.2" font-weight="bold" fill="#111">17</text>
<polyline points="289.80,242.20 285.20,247.40 285.70,253.70 286.30,257.20 282.30,263.00" stroke="#f01e23" stroke-width="0.9" fill="none" stroke-linejoin="round"/>
<text x="292.0" y="241.6" font-size="6.6" font-weight="bold" fill="#f01e23">Y<tspan font-size="4.4" dy="1.4">1</tspan></text>
<text x="276.6" y="268.2" font-size="6.6" font-weight="bold" fill="#f01e23">B<tspan font-size="4.4" dy="1.4">2</tspan></text>
<polyline points="302.90,250.60 305.10,254.40 319.50,252.80" stroke="#f01e23" stroke-width="0.9" fill="none" stroke-linejoin="round"/>
<text x="319.10" y="252.90" font-size="6.6" font-weight="bold" fill="#f01e23"><tspan font-size="3.8" dy="-2.2">0,4</tspan><tspan dy="2.2">A</tspan><tspan font-size="4.4" dy="1.4">2</tspan></text>
</svg>
</body></html>
